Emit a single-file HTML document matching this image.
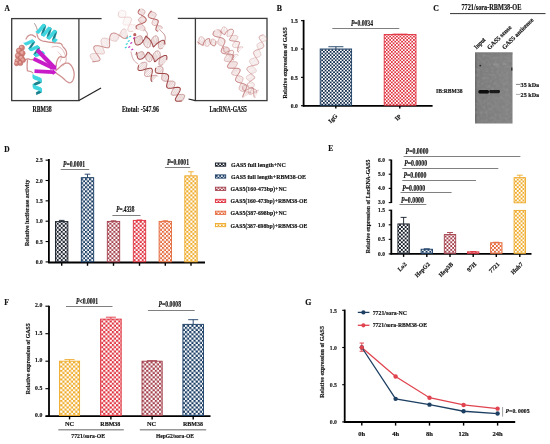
<!DOCTYPE html>
<html><head><meta charset="utf-8"><title>Figure</title>
<style>
html,body{margin:0;padding:0;background:#fff;width:550px;height:444px;overflow:hidden;}
svg{display:block;filter:blur(0.3px);}
text{stroke:#1a1a1a;stroke-width:0.18px;}
</style></head><body>
<svg width="550" height="444" viewBox="0 0 550 444">
<defs>
<pattern id="pkB" patternUnits="userSpaceOnUse" width="3.4" height="3.4"><rect width="3.4" height="3.4" fill="#141b26"/><rect x="1.7" y="0" width="1.7" height="1.7" fill="#fff"/><rect x="0" y="1.7" width="1.7" height="1.7" fill="#fff"/></pattern>
<pattern id="pnvB" patternUnits="userSpaceOnUse" width="3.4" height="3.4"><rect width="3.4" height="3.4" fill="#112c4c"/><rect x="1.7" y="0" width="1.7" height="1.7" fill="#fff"/><rect x="0" y="1.7" width="1.7" height="1.7" fill="#fff"/></pattern>
<pattern id="pbrB" patternUnits="userSpaceOnUse" width="3.4" height="3.4"><rect width="3.4" height="3.4" fill="#a4404c"/><rect x="1.7" y="0" width="1.7" height="1.7" fill="#fff"/><rect x="0" y="1.7" width="1.7" height="1.7" fill="#fff"/></pattern>
<pattern id="prdB" patternUnits="userSpaceOnUse" width="3.4" height="3.4"><rect width="3.4" height="3.4" fill="#e0323f"/><rect x="1.7" y="0" width="1.7" height="1.7" fill="#fff"/><rect x="0" y="1.7" width="1.7" height="1.7" fill="#fff"/></pattern>
<pattern id="porB" patternUnits="userSpaceOnUse" width="3.4" height="3.4"><rect width="3.4" height="3.4" fill="#e56a3c"/><rect x="1.7" y="0" width="1.7" height="1.7" fill="#fff"/><rect x="0" y="1.7" width="1.7" height="1.7" fill="#fff"/></pattern>
<pattern id="pgdB" patternUnits="userSpaceOnUse" width="3.4" height="3.4"><rect width="3.4" height="3.4" fill="#efab2a"/><rect x="1.7" y="0" width="1.7" height="1.7" fill="#fff"/><rect x="0" y="1.7" width="1.7" height="1.7" fill="#fff"/></pattern>
<pattern id="pkD" patternUnits="userSpaceOnUse" width="4.05" height="4.05"><rect width="4.05" height="4.05" fill="#141b26"/><rect x="2.02" y="0" width="2.02" height="2.02" fill="#fff"/><rect x="0" y="2.02" width="2.02" height="2.02" fill="#fff"/></pattern>
<pattern id="pnvD" patternUnits="userSpaceOnUse" width="4.05" height="4.05"><rect width="4.05" height="4.05" fill="#183c64"/><rect x="2.02" y="0" width="2.02" height="2.02" fill="#fff"/><rect x="0" y="2.02" width="2.02" height="2.02" fill="#fff"/></pattern>
<pattern id="pbrD" patternUnits="userSpaceOnUse" width="4.05" height="4.05"><rect width="4.05" height="4.05" fill="#a4404c"/><rect x="2.02" y="0" width="2.02" height="2.02" fill="#fff"/><rect x="0" y="2.02" width="2.02" height="2.02" fill="#fff"/></pattern>
<pattern id="prdD" patternUnits="userSpaceOnUse" width="4.05" height="4.05"><rect width="4.05" height="4.05" fill="#e0323f"/><rect x="2.02" y="0" width="2.02" height="2.02" fill="#fff"/><rect x="0" y="2.02" width="2.02" height="2.02" fill="#fff"/></pattern>
<pattern id="porD" patternUnits="userSpaceOnUse" width="4.05" height="4.05"><rect width="4.05" height="4.05" fill="#e56a3c"/><rect x="2.02" y="0" width="2.02" height="2.02" fill="#fff"/><rect x="0" y="2.02" width="2.02" height="2.02" fill="#fff"/></pattern>
<pattern id="pgdD" patternUnits="userSpaceOnUse" width="4.05" height="4.05"><rect width="4.05" height="4.05" fill="#efab2a"/><rect x="2.02" y="0" width="2.02" height="2.02" fill="#fff"/><rect x="0" y="2.02" width="2.02" height="2.02" fill="#fff"/></pattern>
<pattern id="pkE" patternUnits="userSpaceOnUse" width="3.8" height="3.8"><rect width="3.8" height="3.8" fill="#141b26"/><rect x="1.9" y="0" width="1.9" height="1.9" fill="#fff"/><rect x="0" y="1.9" width="1.9" height="1.9" fill="#fff"/></pattern>
<pattern id="pnvE" patternUnits="userSpaceOnUse" width="3.8" height="3.8"><rect width="3.8" height="3.8" fill="#183c64"/><rect x="1.9" y="0" width="1.9" height="1.9" fill="#fff"/><rect x="0" y="1.9" width="1.9" height="1.9" fill="#fff"/></pattern>
<pattern id="pbrE" patternUnits="userSpaceOnUse" width="3.8" height="3.8"><rect width="3.8" height="3.8" fill="#a4404c"/><rect x="1.9" y="0" width="1.9" height="1.9" fill="#fff"/><rect x="0" y="1.9" width="1.9" height="1.9" fill="#fff"/></pattern>
<pattern id="prdE" patternUnits="userSpaceOnUse" width="3.8" height="3.8"><rect width="3.8" height="3.8" fill="#e0323f"/><rect x="1.9" y="0" width="1.9" height="1.9" fill="#fff"/><rect x="0" y="1.9" width="1.9" height="1.9" fill="#fff"/></pattern>
<pattern id="porE" patternUnits="userSpaceOnUse" width="3.8" height="3.8"><rect width="3.8" height="3.8" fill="#e56a3c"/><rect x="1.9" y="0" width="1.9" height="1.9" fill="#fff"/><rect x="0" y="1.9" width="1.9" height="1.9" fill="#fff"/></pattern>
<pattern id="pgdE" patternUnits="userSpaceOnUse" width="3.8" height="3.8"><rect width="3.8" height="3.8" fill="#efab2a"/><rect x="1.9" y="0" width="1.9" height="1.9" fill="#fff"/><rect x="0" y="1.9" width="1.9" height="1.9" fill="#fff"/></pattern>
<pattern id="pkF" patternUnits="userSpaceOnUse" width="4.3" height="4.3"><rect width="4.3" height="4.3" fill="#141b26"/><rect x="2.15" y="0" width="2.15" height="2.15" fill="#fff"/><rect x="0" y="2.15" width="2.15" height="2.15" fill="#fff"/></pattern>
<pattern id="pnvF" patternUnits="userSpaceOnUse" width="4.3" height="4.3"><rect width="4.3" height="4.3" fill="#183c64"/><rect x="2.15" y="0" width="2.15" height="2.15" fill="#fff"/><rect x="0" y="2.15" width="2.15" height="2.15" fill="#fff"/></pattern>
<pattern id="pbrF" patternUnits="userSpaceOnUse" width="4.3" height="4.3"><rect width="4.3" height="4.3" fill="#a4404c"/><rect x="2.15" y="0" width="2.15" height="2.15" fill="#fff"/><rect x="0" y="2.15" width="2.15" height="2.15" fill="#fff"/></pattern>
<pattern id="prdF" patternUnits="userSpaceOnUse" width="4.3" height="4.3"><rect width="4.3" height="4.3" fill="#e0323f"/><rect x="2.15" y="0" width="2.15" height="2.15" fill="#fff"/><rect x="0" y="2.15" width="2.15" height="2.15" fill="#fff"/></pattern>
<pattern id="porF" patternUnits="userSpaceOnUse" width="4.3" height="4.3"><rect width="4.3" height="4.3" fill="#e56a3c"/><rect x="2.15" y="0" width="2.15" height="2.15" fill="#fff"/><rect x="0" y="2.15" width="2.15" height="2.15" fill="#fff"/></pattern>
<pattern id="pgdF" patternUnits="userSpaceOnUse" width="4.3" height="4.3"><rect width="4.3" height="4.3" fill="#efab2a"/><rect x="2.15" y="0" width="2.15" height="2.15" fill="#fff"/><rect x="0" y="2.15" width="2.15" height="2.15" fill="#fff"/></pattern>
<pattern id="pkL" patternUnits="userSpaceOnUse" width="3.4" height="3.4"><rect width="3.4" height="3.4" fill="#141b26"/><rect x="1.7" y="0" width="1.7" height="1.7" fill="#fff"/><rect x="0" y="1.7" width="1.7" height="1.7" fill="#fff"/></pattern>
<pattern id="pnvL" patternUnits="userSpaceOnUse" width="3.4" height="3.4"><rect width="3.4" height="3.4" fill="#183c64"/><rect x="1.7" y="0" width="1.7" height="1.7" fill="#fff"/><rect x="0" y="1.7" width="1.7" height="1.7" fill="#fff"/></pattern>
<pattern id="pbrL" patternUnits="userSpaceOnUse" width="3.4" height="3.4"><rect width="3.4" height="3.4" fill="#a4404c"/><rect x="1.7" y="0" width="1.7" height="1.7" fill="#fff"/><rect x="0" y="1.7" width="1.7" height="1.7" fill="#fff"/></pattern>
<pattern id="prdL" patternUnits="userSpaceOnUse" width="3.4" height="3.4"><rect width="3.4" height="3.4" fill="#e0323f"/><rect x="1.7" y="0" width="1.7" height="1.7" fill="#fff"/><rect x="0" y="1.7" width="1.7" height="1.7" fill="#fff"/></pattern>
<pattern id="porL" patternUnits="userSpaceOnUse" width="3.4" height="3.4"><rect width="3.4" height="3.4" fill="#e56a3c"/><rect x="1.7" y="0" width="1.7" height="1.7" fill="#fff"/><rect x="0" y="1.7" width="1.7" height="1.7" fill="#fff"/></pattern>
<pattern id="pgdL" patternUnits="userSpaceOnUse" width="3.4" height="3.4"><rect width="3.4" height="3.4" fill="#efab2a"/><rect x="1.7" y="0" width="1.7" height="1.7" fill="#fff"/><rect x="0" y="1.7" width="1.7" height="1.7" fill="#fff"/></pattern>
</defs>
<rect width="550" height="444" fill="#fff"/>
<text x="276.7" y="10.5" font-size="7.8" text-anchor="start" fill="#111" font-weight="bold" font-style="normal" font-family="Liberation Serif" >B</text>
<line x1="303.6" y1="19.9" x2="303.6" y2="106.6" stroke="#000" stroke-width="1.8" />
<line x1="302.8" y1="105.9" x2="432.6" y2="105.9" stroke="#000" stroke-width="1.8" />
<line x1="301" y1="105.7" x2="303.6" y2="105.7" stroke="#000" stroke-width="1.1" />
<text x="297.8" y="108.1" font-size="6.2" text-anchor="end" fill="#111" font-weight="bold" font-style="normal" font-family="Liberation Serif" textLength="7" lengthAdjust="spacingAndGlyphs" >0.0</text>
<line x1="301" y1="77.35" x2="303.6" y2="77.35" stroke="#000" stroke-width="1.1" />
<text x="297.8" y="79.75" font-size="6.2" text-anchor="end" fill="#111" font-weight="bold" font-style="normal" font-family="Liberation Serif" textLength="7" lengthAdjust="spacingAndGlyphs" >0.5</text>
<line x1="301" y1="49" x2="303.6" y2="49" stroke="#000" stroke-width="1.1" />
<text x="297.8" y="51.4" font-size="6.2" text-anchor="end" fill="#111" font-weight="bold" font-style="normal" font-family="Liberation Serif" textLength="7" lengthAdjust="spacingAndGlyphs" >1.0</text>
<line x1="301" y1="20.65" x2="303.6" y2="20.65" stroke="#000" stroke-width="1.1" />
<text x="297.8" y="23.05" font-size="6.2" text-anchor="end" fill="#111" font-weight="bold" font-style="normal" font-family="Liberation Serif" textLength="7" lengthAdjust="spacingAndGlyphs" >1.5</text>
<line x1="335.8" y1="105.9" x2="335.8" y2="108.4" stroke="#000" stroke-width="1.4" />
<line x1="399.8" y1="105.9" x2="399.8" y2="108.4" stroke="#000" stroke-width="1.4" />
<rect x="320.2" y="49" width="31.4" height="56.2" fill="url(#pnvB)" stroke="#183c64" stroke-width="0.9"/>
<line x1="335.9" y1="49" x2="335.9" y2="46.73" stroke="#183c64" stroke-width="0.9" />
<line x1="328.4" y1="46.73" x2="343.4" y2="46.73" stroke="#183c64" stroke-width="0.9" />
<rect x="384.2" y="34.54" width="31.8" height="70.66" fill="url(#prdB)" stroke="#e0323f" stroke-width="0.9"/>
<line x1="400.1" y1="34.54" x2="400.1" y2="34.14" stroke="#e0323f" stroke-width="0.9" />
<line x1="392.6" y1="34.14" x2="407.6" y2="34.14" stroke="#e0323f" stroke-width="0.9" />
<line x1="332.3" y1="28.5" x2="399.3" y2="28.5" stroke="#808080" stroke-width="1" />
<text x="350.9" y="25.5" font-size="7.2" text-anchor="start" fill="#111" font-weight="bold" font-family="Liberation Serif" textLength="22.1" lengthAdjust="spacingAndGlyphs"><tspan font-style="italic">P</tspan>=0.0034</text>
<text x="287.1" y="62.9" font-size="6" text-anchor="middle" fill="#111" font-weight="bold" font-style="normal" font-family="Liberation Serif" textLength="71.4" lengthAdjust="spacingAndGlyphs" transform="rotate(-90 287.1 62.9)" >Relative expression of GAS5</text>
<text x="337.9" y="116.4" font-size="6" text-anchor="end" fill="#111" font-weight="bold" font-style="normal" font-family="Liberation Serif" transform="rotate(-45 337.9 116.4)" >IgG</text>
<text x="401.5" y="116.8" font-size="6" text-anchor="end" fill="#111" font-weight="bold" font-style="normal" font-family="Liberation Serif" transform="rotate(-45 401.5 116.8)" >IP</text>
<text x="4.3" y="151.5" font-size="7.4" text-anchor="start" fill="#111" font-weight="bold" font-style="normal" font-family="Liberation Serif" >D</text>
<line x1="48.9" y1="159" x2="48.9" y2="263" stroke="#000" stroke-width="1.8" />
<line x1="48.1" y1="262.5" x2="205" y2="262.5" stroke="#000" stroke-width="1.8" />
<line x1="45.6" y1="261.9" x2="48.9" y2="261.9" stroke="#000" stroke-width="1.1" />
<text x="42.6" y="264" font-size="6.2" text-anchor="end" fill="#111" font-weight="bold" font-style="normal" font-family="Liberation Serif" textLength="6.8" lengthAdjust="spacingAndGlyphs" >0.0</text>
<line x1="45.6" y1="241.55" x2="48.9" y2="241.55" stroke="#000" stroke-width="1.1" />
<text x="42.6" y="243.65" font-size="6.2" text-anchor="end" fill="#111" font-weight="bold" font-style="normal" font-family="Liberation Serif" textLength="6.8" lengthAdjust="spacingAndGlyphs" >0.5</text>
<line x1="45.6" y1="221.2" x2="48.9" y2="221.2" stroke="#000" stroke-width="1.1" />
<text x="42.6" y="223.3" font-size="6.2" text-anchor="end" fill="#111" font-weight="bold" font-style="normal" font-family="Liberation Serif" textLength="6.8" lengthAdjust="spacingAndGlyphs" >1.0</text>
<line x1="45.6" y1="200.85" x2="48.9" y2="200.85" stroke="#000" stroke-width="1.1" />
<text x="42.6" y="202.95" font-size="6.2" text-anchor="end" fill="#111" font-weight="bold" font-style="normal" font-family="Liberation Serif" textLength="6.8" lengthAdjust="spacingAndGlyphs" >1.5</text>
<line x1="45.6" y1="180.5" x2="48.9" y2="180.5" stroke="#000" stroke-width="1.1" />
<text x="42.6" y="182.6" font-size="6.2" text-anchor="end" fill="#111" font-weight="bold" font-style="normal" font-family="Liberation Serif" textLength="6.8" lengthAdjust="spacingAndGlyphs" >2.0</text>
<line x1="45.6" y1="160.15" x2="48.9" y2="160.15" stroke="#000" stroke-width="1.1" />
<text x="42.6" y="162.25" font-size="6.2" text-anchor="end" fill="#111" font-weight="bold" font-style="normal" font-family="Liberation Serif" textLength="6.8" lengthAdjust="spacingAndGlyphs" >2.5</text>
<line x1="61.7" y1="262.5" x2="61.7" y2="265.8" stroke="#000" stroke-width="1.4" />
<rect x="55.5" y="221.61" width="12.4" height="40.19" fill="url(#pkD)" stroke="#141b26" stroke-width="0.9"/>
<line x1="61.7" y1="221.61" x2="61.7" y2="220.39" stroke="#141b26" stroke-width="0.9" />
<line x1="58.9" y1="220.39" x2="64.5" y2="220.39" stroke="#141b26" stroke-width="0.9" />
<line x1="87.5" y1="262.5" x2="87.5" y2="265.8" stroke="#000" stroke-width="1.4" />
<rect x="81.3" y="177.65" width="12.4" height="84.15" fill="url(#pnvD)" stroke="#183c64" stroke-width="0.9"/>
<line x1="87.5" y1="177.65" x2="87.5" y2="174.19" stroke="#183c64" stroke-width="0.9" />
<line x1="84.7" y1="174.19" x2="90.3" y2="174.19" stroke="#183c64" stroke-width="0.9" />
<line x1="113.5" y1="262.5" x2="113.5" y2="265.8" stroke="#000" stroke-width="1.4" />
<rect x="107.3" y="221.4" width="12.4" height="40.4" fill="url(#pbrD)" stroke="#a4404c" stroke-width="0.9"/>
<line x1="113.5" y1="221.4" x2="113.5" y2="220.79" stroke="#a4404c" stroke-width="0.9" />
<line x1="110.7" y1="220.79" x2="116.3" y2="220.79" stroke="#a4404c" stroke-width="0.9" />
<line x1="139.5" y1="262.5" x2="139.5" y2="265.8" stroke="#000" stroke-width="1.4" />
<rect x="133.3" y="220.39" width="12.4" height="41.41" fill="url(#prdD)" stroke="#e0323f" stroke-width="0.9"/>
<line x1="139.5" y1="220.39" x2="139.5" y2="219.98" stroke="#e0323f" stroke-width="0.9" />
<line x1="136.7" y1="219.98" x2="142.3" y2="219.98" stroke="#e0323f" stroke-width="0.9" />
<line x1="165.3" y1="262.5" x2="165.3" y2="265.8" stroke="#000" stroke-width="1.4" />
<rect x="159.1" y="221.4" width="12.4" height="40.4" fill="url(#porD)" stroke="#e56a3c" stroke-width="0.9"/>
<line x1="165.3" y1="221.4" x2="165.3" y2="220.79" stroke="#e56a3c" stroke-width="0.9" />
<line x1="162.5" y1="220.79" x2="168.1" y2="220.79" stroke="#e56a3c" stroke-width="0.9" />
<line x1="191" y1="262.5" x2="191" y2="265.8" stroke="#000" stroke-width="1.4" />
<rect x="184.8" y="175.82" width="12.4" height="85.98" fill="url(#pgdD)" stroke="#efab2a" stroke-width="0.9"/>
<line x1="191" y1="175.82" x2="191" y2="171.75" stroke="#efab2a" stroke-width="0.9" />
<line x1="188.2" y1="171.75" x2="193.8" y2="171.75" stroke="#efab2a" stroke-width="0.9" />
<line x1="60.7" y1="169.5" x2="89.2" y2="169.5" stroke="#808080" stroke-width="1" />
<text x="63" y="166.7" font-size="7.2" text-anchor="start" fill="#111" font-weight="bold" font-family="Liberation Serif" textLength="22.1" lengthAdjust="spacingAndGlyphs"><tspan font-style="italic">P</tspan>=0.0001</text>
<line x1="112.4" y1="215.5" x2="140.5" y2="215.5" stroke="#808080" stroke-width="1" />
<text x="116.2" y="212.3" font-size="7.2" text-anchor="start" fill="#111" font-weight="bold" font-family="Liberation Serif" textLength="18.2" lengthAdjust="spacingAndGlyphs"><tspan font-style="italic">P</tspan>=.4338</text>
<line x1="164.9" y1="167.5" x2="190.2" y2="167.5" stroke="#808080" stroke-width="1" />
<text x="166.9" y="164.5" font-size="7.2" text-anchor="start" fill="#111" font-weight="bold" font-family="Liberation Serif" textLength="22.1" lengthAdjust="spacingAndGlyphs"><tspan font-style="italic">P</tspan>=0.0001</text>
<text x="28.8" y="212.8" font-size="6" text-anchor="middle" fill="#111" font-weight="bold" font-style="normal" font-family="Liberation Serif" textLength="66.4" lengthAdjust="spacingAndGlyphs" transform="rotate(-90 28.8 212.8)" >Relative luciferase activity</text>
<rect x="215.4" y="163" width="10.3" height="3.2" fill="url(#pkL)" stroke="#141b26" stroke-width="0.9"/>
<text x="231" y="167" font-size="7" text-anchor="start" fill="#111" font-weight="bold" font-style="normal" font-family="Liberation Serif" textLength="54.7" lengthAdjust="spacingAndGlyphs" >GAS5 full length+NC</text>
<rect x="215.4" y="174.9" width="10.3" height="3.2" fill="url(#pnvL)" stroke="#183c64" stroke-width="0.9"/>
<text x="231" y="178.9" font-size="7" text-anchor="start" fill="#111" font-weight="bold" font-style="normal" font-family="Liberation Serif" textLength="75" lengthAdjust="spacingAndGlyphs" >GAS5 full length+RBM38-OE</text>
<rect x="215.4" y="187.2" width="10.3" height="3.2" fill="url(#pbrL)" stroke="#a4404c" stroke-width="0.9"/>
<text x="230.6" y="191.2" font-size="7" text-anchor="start" fill="#111" font-weight="bold" font-style="normal" font-family="Liberation Serif" textLength="56.2" lengthAdjust="spacingAndGlyphs" >GAS5(160-473bp)+NC</text>
<rect x="215.4" y="199.3" width="10.3" height="3.2" fill="url(#prdL)" stroke="#e0323f" stroke-width="0.9"/>
<text x="230.6" y="203.3" font-size="7" text-anchor="start" fill="#111" font-weight="bold" font-style="normal" font-family="Liberation Serif" textLength="76.7" lengthAdjust="spacingAndGlyphs" >GAS5(160-473bp)+RBM38-OE</text>
<rect x="215.4" y="211.2" width="10.3" height="3.2" fill="url(#porL)" stroke="#e56a3c" stroke-width="0.9"/>
<text x="230.6" y="215.2" font-size="7" text-anchor="start" fill="#111" font-weight="bold" font-style="normal" font-family="Liberation Serif" textLength="56.2" lengthAdjust="spacingAndGlyphs" >GAS5(387-698bp)+NC</text>
<rect x="215.4" y="223.5" width="10.3" height="3.2" fill="url(#pgdL)" stroke="#efab2a" stroke-width="0.9"/>
<text x="230.6" y="227.5" font-size="7" text-anchor="start" fill="#111" font-weight="bold" font-style="normal" font-family="Liberation Serif" textLength="76.7" lengthAdjust="spacingAndGlyphs" >GAS5(387-698bp)+RBM38-OE</text>
<text x="328.2" y="151.2" font-size="7.4" text-anchor="start" fill="#111" font-weight="bold" font-style="normal" font-family="Liberation Serif" >E</text>
<line x1="391.3" y1="159.6" x2="391.3" y2="203" stroke="#000" stroke-width="1.8" />
<line x1="391.3" y1="209.7" x2="391.3" y2="254.6" stroke="#000" stroke-width="1.8" />
<line x1="390.5" y1="253.9" x2="531.5" y2="253.9" stroke="#000" stroke-width="1.8" />
<line x1="388.7" y1="202.6" x2="391.3" y2="202.6" stroke="#000" stroke-width="1.1" />
<text x="384.9" y="204.3" font-size="6" text-anchor="end" fill="#111" font-weight="bold" font-style="normal" font-family="Liberation Serif" textLength="6.8" lengthAdjust="spacingAndGlyphs" >3.0</text>
<line x1="388.7" y1="188.4" x2="391.3" y2="188.4" stroke="#000" stroke-width="1.1" />
<text x="384.9" y="190.1" font-size="6" text-anchor="end" fill="#111" font-weight="bold" font-style="normal" font-family="Liberation Serif" textLength="6.8" lengthAdjust="spacingAndGlyphs" >4.0</text>
<line x1="388.7" y1="174.2" x2="391.3" y2="174.2" stroke="#000" stroke-width="1.1" />
<text x="384.9" y="175.9" font-size="6" text-anchor="end" fill="#111" font-weight="bold" font-style="normal" font-family="Liberation Serif" textLength="6.8" lengthAdjust="spacingAndGlyphs" >5.0</text>
<line x1="388.7" y1="160" x2="391.3" y2="160" stroke="#000" stroke-width="1.1" />
<text x="384.9" y="161.7" font-size="6" text-anchor="end" fill="#111" font-weight="bold" font-style="normal" font-family="Liberation Serif" textLength="6.8" lengthAdjust="spacingAndGlyphs" >6.0</text>
<line x1="388.7" y1="253.9" x2="391.3" y2="253.9" stroke="#000" stroke-width="1.1" />
<text x="384.9" y="255.6" font-size="6" text-anchor="end" fill="#111" font-weight="bold" font-style="normal" font-family="Liberation Serif" textLength="6.8" lengthAdjust="spacingAndGlyphs" >0.0</text>
<line x1="388.7" y1="239.35" x2="391.3" y2="239.35" stroke="#000" stroke-width="1.1" />
<text x="384.9" y="241.05" font-size="6" text-anchor="end" fill="#111" font-weight="bold" font-style="normal" font-family="Liberation Serif" textLength="6.8" lengthAdjust="spacingAndGlyphs" >0.5</text>
<line x1="388.7" y1="224.8" x2="391.3" y2="224.8" stroke="#000" stroke-width="1.1" />
<text x="384.9" y="226.5" font-size="6" text-anchor="end" fill="#111" font-weight="bold" font-style="normal" font-family="Liberation Serif" textLength="6.8" lengthAdjust="spacingAndGlyphs" >1.0</text>
<line x1="388.7" y1="210.25" x2="391.3" y2="210.25" stroke="#000" stroke-width="1.1" />
<text x="384.9" y="211.95" font-size="6" text-anchor="end" fill="#111" font-weight="bold" font-style="normal" font-family="Liberation Serif" textLength="6.8" lengthAdjust="spacingAndGlyphs" >1.5</text>
<line x1="403.6" y1="253.9" x2="403.6" y2="256.9" stroke="#000" stroke-width="1.4" />
<text x="407.1" y="264.7" font-size="6" text-anchor="end" fill="#111" font-weight="bold" font-style="normal" font-family="Liberation Serif" transform="rotate(-45 407.1 264.7)" >Lo2</text>
<rect x="397.9" y="223.93" width="11.4" height="29.37" fill="url(#pkE)" stroke="#141b26" stroke-width="0.9"/>
<line x1="403.6" y1="223.93" x2="403.6" y2="217.38" stroke="#141b26" stroke-width="0.9" />
<line x1="400.6" y1="217.38" x2="406.6" y2="217.38" stroke="#141b26" stroke-width="0.9" />
<line x1="426.8" y1="253.9" x2="426.8" y2="256.9" stroke="#000" stroke-width="1.4" />
<text x="430.3" y="264.7" font-size="6" text-anchor="end" fill="#111" font-weight="bold" font-style="normal" font-family="Liberation Serif" transform="rotate(-45 430.3 264.7)" >HepG2</text>
<rect x="421.1" y="249.24" width="11.4" height="4.06" fill="url(#pnvE)" stroke="#183c64" stroke-width="0.9"/>
<line x1="426.8" y1="249.24" x2="426.8" y2="248.81" stroke="#183c64" stroke-width="0.9" />
<line x1="423.8" y1="248.81" x2="429.8" y2="248.81" stroke="#183c64" stroke-width="0.9" />
<line x1="450" y1="253.9" x2="450" y2="256.9" stroke="#000" stroke-width="1.4" />
<text x="453.5" y="264.7" font-size="6" text-anchor="end" fill="#111" font-weight="bold" font-style="normal" font-family="Liberation Serif" transform="rotate(-45 453.5 264.7)" >Hep3B</text>
<rect x="444.3" y="234.55" width="11.4" height="18.75" fill="url(#pbrE)" stroke="#a4404c" stroke-width="0.9"/>
<line x1="450" y1="234.55" x2="450" y2="232.51" stroke="#a4404c" stroke-width="0.9" />
<line x1="447" y1="232.51" x2="453" y2="232.51" stroke="#a4404c" stroke-width="0.9" />
<line x1="473.2" y1="253.9" x2="473.2" y2="256.9" stroke="#000" stroke-width="1.4" />
<text x="476.7" y="264.7" font-size="6" text-anchor="end" fill="#111" font-weight="bold" font-style="normal" font-family="Liberation Serif" transform="rotate(-45 476.7 264.7)" >97H</text>
<rect x="467.5" y="251.86" width="11.4" height="1.44" fill="url(#prdE)" stroke="#e0323f" stroke-width="0.9"/>
<line x1="473.2" y1="251.86" x2="473.2" y2="251.57" stroke="#e0323f" stroke-width="0.9" />
<line x1="470.2" y1="251.57" x2="476.2" y2="251.57" stroke="#e0323f" stroke-width="0.9" />
<line x1="496.3" y1="253.9" x2="496.3" y2="256.9" stroke="#000" stroke-width="1.4" />
<text x="499.8" y="264.7" font-size="6" text-anchor="end" fill="#111" font-weight="bold" font-style="normal" font-family="Liberation Serif" transform="rotate(-45 499.8 264.7)" >7721</text>
<rect x="490.6" y="242.7" width="11.4" height="10.6" fill="url(#porE)" stroke="#e56a3c" stroke-width="0.9"/>
<line x1="496.3" y1="242.7" x2="496.3" y2="242.26" stroke="#e56a3c" stroke-width="0.9" />
<line x1="493.3" y1="242.26" x2="499.3" y2="242.26" stroke="#e56a3c" stroke-width="0.9" />
<line x1="519.8" y1="253.9" x2="519.8" y2="256.9" stroke="#000" stroke-width="1.4" />
<text x="523.3" y="264.7" font-size="6" text-anchor="end" fill="#111" font-weight="bold" font-style="normal" font-family="Liberation Serif" transform="rotate(-45 523.3 264.7)" >Huh7</text>
<rect x="514.1" y="177.6" width="11.4" height="25.2" fill="url(#pgdE)" stroke="#efab2a" stroke-width="0.9"/>
<rect x="514.1" y="210.4" width="11.4" height="42.9" fill="url(#pgdE)" stroke="#efab2a" stroke-width="0.9"/>
<line x1="519.8" y1="177.6" x2="519.8" y2="175.2" stroke="#efab2a" stroke-width="0.9" />
<line x1="516.8" y1="175.2" x2="522.8" y2="175.2" stroke="#efab2a" stroke-width="0.9" />
<line x1="403.6" y1="156.5" x2="520.4" y2="156.5" stroke="#808080" stroke-width="1" />
<text x="405.6" y="154.1" font-size="7.2" text-anchor="start" fill="#111" font-weight="bold" font-family="Liberation Serif" textLength="22.9" lengthAdjust="spacingAndGlyphs"><tspan font-style="italic">P</tspan>=0.0000</text>
<line x1="402.3" y1="168.5" x2="498.3" y2="168.5" stroke="#808080" stroke-width="1" />
<text x="404.2" y="166.3" font-size="7.2" text-anchor="start" fill="#111" font-weight="bold" font-family="Liberation Serif" textLength="22.9" lengthAdjust="spacingAndGlyphs"><tspan font-style="italic">P</tspan>=0.0000</text>
<line x1="402.3" y1="180.5" x2="476" y2="180.5" stroke="#808080" stroke-width="1" />
<text x="403.5" y="178.3" font-size="7.2" text-anchor="start" fill="#111" font-weight="bold" font-family="Liberation Serif" textLength="22.9" lengthAdjust="spacingAndGlyphs"><tspan font-style="italic">P</tspan>=0.0000</text>
<line x1="400.5" y1="192.5" x2="451.6" y2="192.5" stroke="#808080" stroke-width="1" />
<text x="402.2" y="190.6" font-size="7.2" text-anchor="start" fill="#111" font-weight="bold" font-family="Liberation Serif" textLength="22.9" lengthAdjust="spacingAndGlyphs"><tspan font-style="italic">P</tspan>=0.0000</text>
<line x1="399.5" y1="204.5" x2="426.3" y2="204.5" stroke="#808080" stroke-width="1" />
<text x="401" y="202.9" font-size="7.2" text-anchor="start" fill="#111" font-weight="bold" font-family="Liberation Serif" textLength="22.9" lengthAdjust="spacingAndGlyphs"><tspan font-style="italic">P</tspan>=0.0000</text>
<text x="369.6" y="206.5" font-size="6" text-anchor="middle" fill="#111" font-weight="bold" font-style="normal" font-family="Liberation Serif" textLength="93.7" lengthAdjust="spacingAndGlyphs" transform="rotate(-90 369.6 206.5)" >Relative expression of LncRNA-GAS5</text>
<text x="4.2" y="304.6" font-size="7.8" text-anchor="start" fill="#111" font-weight="bold" font-style="normal" font-family="Liberation Serif" >F</text>
<line x1="49" y1="305.7" x2="49" y2="416.9" stroke="#000" stroke-width="1.8" />
<line x1="45.6" y1="416.1" x2="210.5" y2="416.1" stroke="#000" stroke-width="1.8" />
<line x1="45.4" y1="416.2" x2="49" y2="416.2" stroke="#000" stroke-width="1.1" />
<text x="42.3" y="417.2" font-size="6.2" text-anchor="end" fill="#111" font-weight="bold" font-style="normal" font-family="Liberation Serif" textLength="7.2" lengthAdjust="spacingAndGlyphs" >0.0</text>
<line x1="45.4" y1="388.7" x2="49" y2="388.7" stroke="#000" stroke-width="1.1" />
<text x="42.3" y="389.7" font-size="6.2" text-anchor="end" fill="#111" font-weight="bold" font-style="normal" font-family="Liberation Serif" textLength="7.2" lengthAdjust="spacingAndGlyphs" >0.5</text>
<line x1="45.4" y1="361.2" x2="49" y2="361.2" stroke="#000" stroke-width="1.1" />
<text x="42.3" y="362.2" font-size="6.2" text-anchor="end" fill="#111" font-weight="bold" font-style="normal" font-family="Liberation Serif" textLength="7.2" lengthAdjust="spacingAndGlyphs" >1.0</text>
<line x1="45.4" y1="333.7" x2="49" y2="333.7" stroke="#000" stroke-width="1.1" />
<text x="42.3" y="334.7" font-size="6.2" text-anchor="end" fill="#111" font-weight="bold" font-style="normal" font-family="Liberation Serif" textLength="7.2" lengthAdjust="spacingAndGlyphs" >1.5</text>
<line x1="45.4" y1="306.2" x2="49" y2="306.2" stroke="#000" stroke-width="1.1" />
<text x="42.3" y="307.2" font-size="6.2" text-anchor="end" fill="#111" font-weight="bold" font-style="normal" font-family="Liberation Serif" textLength="7.2" lengthAdjust="spacingAndGlyphs" >2.0</text>
<rect x="59.5" y="361.2" width="20.1" height="54.3" fill="url(#pgdF)" stroke="#efab2a" stroke-width="0.9"/>
<line x1="69.55" y1="361.2" x2="69.55" y2="359.55" stroke="#efab2a" stroke-width="0.9" />
<line x1="64.55" y1="359.55" x2="74.55" y2="359.55" stroke="#efab2a" stroke-width="0.9" />
<line x1="69.55" y1="416.1" x2="69.55" y2="419.4" stroke="#000" stroke-width="1.4" />
<rect x="100.6" y="319.12" width="20.6" height="96.38" fill="url(#prdF)" stroke="#e0323f" stroke-width="0.9"/>
<line x1="110.9" y1="319.12" x2="110.9" y2="317.2" stroke="#e0323f" stroke-width="0.9" />
<line x1="105.9" y1="317.2" x2="115.9" y2="317.2" stroke="#e0323f" stroke-width="0.9" />
<line x1="110.9" y1="416.1" x2="110.9" y2="419.4" stroke="#000" stroke-width="1.4" />
<rect x="142" y="361.2" width="20.2" height="54.3" fill="url(#pbrF)" stroke="#a4404c" stroke-width="0.9"/>
<line x1="152.1" y1="361.2" x2="152.1" y2="360.65" stroke="#a4404c" stroke-width="0.9" />
<line x1="147.1" y1="360.65" x2="157.1" y2="360.65" stroke="#a4404c" stroke-width="0.9" />
<line x1="152.1" y1="416.1" x2="152.1" y2="419.4" stroke="#000" stroke-width="1.4" />
<rect x="182.9" y="324.35" width="20.6" height="91.15" fill="url(#pnvF)" stroke="#183c64" stroke-width="0.9"/>
<line x1="193.2" y1="324.35" x2="193.2" y2="319.68" stroke="#183c64" stroke-width="0.9" />
<line x1="188.2" y1="319.68" x2="198.2" y2="319.68" stroke="#183c64" stroke-width="0.9" />
<line x1="193.2" y1="416.1" x2="193.2" y2="419.4" stroke="#000" stroke-width="1.4" />
<line x1="66" y1="306.5" x2="112.5" y2="306.5" stroke="#808080" stroke-width="1" />
<text x="76" y="303.6" font-size="7.2" text-anchor="start" fill="#111" font-weight="bold" font-family="Liberation Serif" textLength="22.2" lengthAdjust="spacingAndGlyphs"><tspan font-style="italic">P</tspan>&lt;0.0001</text>
<line x1="147.9" y1="310.5" x2="194.7" y2="310.5" stroke="#808080" stroke-width="1" />
<text x="158.6" y="307.3" font-size="7.2" text-anchor="start" fill="#111" font-weight="bold" font-family="Liberation Serif" textLength="22.4" lengthAdjust="spacingAndGlyphs"><tspan font-style="italic">P</tspan>=0.0008</text>
<text x="69.6" y="425.9" font-size="6.3" text-anchor="middle" fill="#111" font-weight="bold" font-style="normal" font-family="Liberation Serif" textLength="9.2" lengthAdjust="spacingAndGlyphs" >NC</text>
<text x="110.3" y="425.9" font-size="6.3" text-anchor="middle" fill="#111" font-weight="bold" font-style="normal" font-family="Liberation Serif" textLength="20" lengthAdjust="spacingAndGlyphs" >RBM38</text>
<text x="151.6" y="425.9" font-size="6.3" text-anchor="middle" fill="#111" font-weight="bold" font-style="normal" font-family="Liberation Serif" textLength="9.2" lengthAdjust="spacingAndGlyphs" >NC</text>
<text x="193" y="425.9" font-size="6.3" text-anchor="middle" fill="#111" font-weight="bold" font-style="normal" font-family="Liberation Serif" textLength="20" lengthAdjust="spacingAndGlyphs" >RBM38</text>
<line x1="58.3" y1="429.7" x2="123.8" y2="429.7" stroke="#999" stroke-width="1.4" />
<line x1="139.8" y1="429.7" x2="206.2" y2="429.7" stroke="#999" stroke-width="1.4" />
<text x="88.2" y="438.4" font-size="6.3" text-anchor="middle" fill="#111" font-weight="bold" font-style="normal" font-family="Liberation Serif" textLength="33.7" lengthAdjust="spacingAndGlyphs" >7721/sora-OE</text>
<text x="175" y="438.4" font-size="6.3" text-anchor="middle" fill="#111" font-weight="bold" font-style="normal" font-family="Liberation Serif" textLength="38" lengthAdjust="spacingAndGlyphs" >HepG2/sora-OE</text>
<text x="29.9" y="358.8" font-size="6" text-anchor="middle" fill="#111" font-weight="bold" font-style="normal" font-family="Liberation Serif" textLength="70.7" lengthAdjust="spacingAndGlyphs" transform="rotate(-90 29.9 358.8)" >Relative expression of GAS5</text>
<text x="305.2" y="304.5" font-size="7.8" text-anchor="start" fill="#111" font-weight="bold" font-style="normal" font-family="Liberation Serif" >G</text>
<line x1="344.7" y1="309.6" x2="344.7" y2="422.8" stroke="#000" stroke-width="1.8" />
<line x1="343.9" y1="422" x2="515.2" y2="422" stroke="#000" stroke-width="1.8" />
<line x1="342.2" y1="421.9" x2="344.7" y2="421.9" stroke="#000" stroke-width="1.1" />
<text x="337" y="424.2" font-size="6" text-anchor="end" fill="#333" font-weight="bold" font-style="normal" font-family="Liberation Serif" textLength="7.2" lengthAdjust="spacingAndGlyphs" >0.0</text>
<line x1="342.2" y1="384.7" x2="344.7" y2="384.7" stroke="#000" stroke-width="1.1" />
<text x="337" y="387" font-size="6" text-anchor="end" fill="#333" font-weight="bold" font-style="normal" font-family="Liberation Serif" textLength="7.2" lengthAdjust="spacingAndGlyphs" >0.5</text>
<line x1="342.2" y1="347.5" x2="344.7" y2="347.5" stroke="#000" stroke-width="1.1" />
<text x="337" y="349.8" font-size="6" text-anchor="end" fill="#333" font-weight="bold" font-style="normal" font-family="Liberation Serif" textLength="7.2" lengthAdjust="spacingAndGlyphs" >1.0</text>
<line x1="342.2" y1="310.3" x2="344.7" y2="310.3" stroke="#000" stroke-width="1.1" />
<text x="337" y="312.6" font-size="6" text-anchor="end" fill="#333" font-weight="bold" font-style="normal" font-family="Liberation Serif" textLength="7.2" lengthAdjust="spacingAndGlyphs" >1.5</text>
<line x1="361.8" y1="422" x2="361.8" y2="425.6" stroke="#000" stroke-width="1.4" />
<text x="361.8" y="435.8" font-size="6.5" text-anchor="middle" fill="#111" font-weight="bold" font-style="normal" font-family="Liberation Serif" >0h</text>
<line x1="395.6" y1="422" x2="395.6" y2="425.6" stroke="#000" stroke-width="1.4" />
<text x="395.6" y="435.8" font-size="6.5" text-anchor="middle" fill="#111" font-weight="bold" font-style="normal" font-family="Liberation Serif" >4h</text>
<line x1="429.5" y1="422" x2="429.5" y2="425.6" stroke="#000" stroke-width="1.4" />
<text x="429.5" y="435.8" font-size="6.5" text-anchor="middle" fill="#111" font-weight="bold" font-style="normal" font-family="Liberation Serif" >8h</text>
<line x1="463.6" y1="422" x2="463.6" y2="425.6" stroke="#000" stroke-width="1.4" />
<text x="463.6" y="435.8" font-size="6.5" text-anchor="middle" fill="#111" font-weight="bold" font-style="normal" font-family="Liberation Serif" >12h</text>
<line x1="497.6" y1="422" x2="497.6" y2="425.6" stroke="#000" stroke-width="1.4" />
<text x="497.6" y="435.8" font-size="6.5" text-anchor="middle" fill="#111" font-weight="bold" font-style="normal" font-family="Liberation Serif" >24h</text>
<line x1="361.8" y1="343.04" x2="361.8" y2="351.22" stroke="#e0444f" stroke-width="1" />
<line x1="359.6" y1="343.04" x2="364" y2="343.04" stroke="#e0444f" stroke-width="1" />
<line x1="359.6" y1="351.22" x2="364" y2="351.22" stroke="#e0444f" stroke-width="1" />
<polyline fill="none" stroke="#e0444f" stroke-width="1.3" points="361.8,347.5 395.6,376.52 429.5,397.72 463.6,404.94 497.6,408.66"/>
<polyline fill="none" stroke="#1d3f62" stroke-width="1.3" points="361.8,347.5 395.6,398.84 429.5,404.64 463.6,411.26 497.6,413.57"/>
<circle cx="361.8" cy="347.5" r="2.2" fill="#1d3f62"/>
<circle cx="395.6" cy="398.84" r="2.2" fill="#1d3f62"/>
<circle cx="429.5" cy="404.64" r="2.2" fill="#1d3f62"/>
<circle cx="463.6" cy="411.26" r="2.2" fill="#1d3f62"/>
<circle cx="497.6" cy="413.57" r="2.2" fill="#1d3f62"/>
<circle cx="361.8" cy="347.5" r="2.2" fill="#e0444f"/>
<circle cx="395.6" cy="376.52" r="2.2" fill="#e0444f"/>
<circle cx="429.5" cy="397.72" r="2.2" fill="#e0444f"/>
<circle cx="463.6" cy="404.94" r="2.2" fill="#e0444f"/>
<circle cx="497.6" cy="408.66" r="2.2" fill="#e0444f"/>
<line x1="357.8" y1="312.4" x2="369.4" y2="312.4" stroke="#1d3f62" stroke-width="1.3" />
<circle cx="363.4" cy="312.4" r="2.1" fill="#1d3f62"/>
<text x="372.7" y="314.7" font-size="6.2" text-anchor="start" fill="#111" font-weight="bold" font-style="normal" font-family="Liberation Serif" textLength="34.3" lengthAdjust="spacingAndGlyphs" >7721/sora-NC</text>
<line x1="357.8" y1="325.3" x2="369.4" y2="325.3" stroke="#e0444f" stroke-width="1.3" />
<circle cx="363.4" cy="325.3" r="2.1" fill="#e0444f"/>
<text x="372.7" y="327.1" font-size="6.2" text-anchor="start" fill="#111" font-weight="bold" font-style="normal" font-family="Liberation Serif" textLength="54.3" lengthAdjust="spacingAndGlyphs" >7721/sora-RBM38-OE</text>
<line x1="502.6" y1="407" x2="502.6" y2="416.6" stroke="#888" stroke-width="0.8" />
<text x="505.6" y="413.2" font-size="5.6" text-anchor="start" fill="#111" font-weight="bold" font-family="Liberation Serif" textLength="24" lengthAdjust="spacingAndGlyphs"><tspan font-style="italic">P</tspan>=0. 0005</text>
<text x="323.8" y="361.9" font-size="6" text-anchor="middle" fill="#111" font-weight="bold" font-style="normal" font-family="Liberation Serif" textLength="71.5" lengthAdjust="spacingAndGlyphs" transform="rotate(-90 323.8 361.9)" >Relative expression of GAS5</text>
<text x="433.3" y="10.5" font-size="7.8" text-anchor="start" fill="#111" font-weight="bold" font-style="normal" font-family="Liberation Serif" >C</text>
<text x="461.4" y="9.8" font-size="7.2" text-anchor="start" fill="#111" font-weight="bold" font-style="normal" font-family="Liberation Serif" textLength="60" lengthAdjust="spacingAndGlyphs" >7721/sora-RBM38-OE</text>
<line x1="450" y1="13.6" x2="545.5" y2="13.6" stroke="#333" stroke-width="1" />
<text x="476.4" y="49.6" font-size="6.3" text-anchor="start" fill="#111" font-weight="bold" font-style="normal" font-family="Liberation Serif" textLength="13.5" lengthAdjust="spacingAndGlyphs" transform="rotate(-45 476.4 49.6)" >Input</text>
<text x="489.6" y="50" font-size="6.3" text-anchor="start" fill="#111" font-weight="bold" font-style="normal" font-family="Liberation Serif" textLength="31.5" lengthAdjust="spacingAndGlyphs" transform="rotate(-45 489.6 50)" >GAS5 sense</text>
<text x="504.4" y="49.8" font-size="6.3" text-anchor="start" fill="#111" font-weight="bold" font-style="normal" font-family="Liberation Serif" textLength="41.8" lengthAdjust="spacingAndGlyphs" transform="rotate(-45 504.4 49.8)" >GAS5 antisense</text>
<defs><linearGradient id="blotg" x1="0" y1="0" x2="1" y2="0"><stop offset="0" stop-color="#666"/><stop offset="0.07" stop-color="#7c7c7c"/><stop offset="0.9" stop-color="#838383"/><stop offset="1" stop-color="#7e7e7e"/></linearGradient><filter id="blur1" x="-20%" y="-50%" width="140%" height="200%"><feGaussianBlur stdDeviation="0.5"/></filter></defs>
<rect x="475" y="52.4" width="37.5" height="71.1" fill="url(#blotg)"/>
<defs><filter id="grain" x="0" y="0" width="100%" height="100%"><feTurbulence type="fractalNoise" baseFrequency="0.35" numOctaves="2" seed="4"/><feColorMatrix type="matrix" values="0 0 0 0 0.5  0 0 0 0 0.5  0 0 0 0 0.5  0 0 0 1.2 -0.45"/></filter></defs>
<rect x="475" y="52.4" width="37.5" height="71.1" filter="url(#grain)" opacity="0.35"/>
<rect x="475" y="52.4" width="37.5" height="2" fill="#7a7a7a" opacity="0.5"/>
<ellipse cx="496" cy="64.5" rx="3" ry="1.2" fill="#9a9a9a" opacity="0.6"/><ellipse cx="505" cy="64" rx="2.5" ry="1" fill="#999" opacity="0.5"/>
<g filter="url(#blur1)"><rect x="478.4" y="89.9" width="10.6" height="3.5" rx="1.5" fill="#0a0a0a"/><rect x="489.2" y="90.1" width="10.8" height="3.1" rx="1.4" fill="#1a1a1a"/><circle cx="480.3" cy="65.6" r="0.9" fill="#222"/><rect x="511.2" y="67.6" width="1.2" height="3" fill="#222"/></g>
<text x="436" y="92.7" font-size="7" text-anchor="start" fill="#111" font-weight="bold" font-style="normal" font-family="Liberation Serif" textLength="26.5" lengthAdjust="spacingAndGlyphs" >IB:RBM38</text>
<line x1="515.9" y1="84.4" x2="520.4" y2="84.4" stroke="#666" stroke-width="0.8" />
<text x="520.6" y="86.6" font-size="6.8" text-anchor="start" fill="#111" font-weight="bold" font-style="normal" font-family="Liberation Serif" textLength="18.6" lengthAdjust="spacingAndGlyphs" >35 kDa</text>
<line x1="515.9" y1="94.4" x2="520.4" y2="94.4" stroke="#999" stroke-width="0.8" />
<text x="520.6" y="96.6" font-size="6.8" text-anchor="start" fill="#111" font-weight="bold" font-style="normal" font-family="Liberation Serif" textLength="18.6" lengthAdjust="spacingAndGlyphs" >25 kDa</text>
<text x="4.4" y="10.9" font-size="7.4" text-anchor="start" fill="#111" font-weight="bold" font-style="normal" font-family="Liberation Serif" >A</text>
<rect x="11.7" y="18.6" width="67.2" height="82" fill="none" stroke="#3a3a3a" stroke-width="1.3"/>
<line x1="78.9" y1="18.6" x2="101.6" y2="18.6" stroke="#3a3a3a" stroke-width="1.3" />
<line x1="78.9" y1="100.6" x2="101" y2="87.9" stroke="#222" stroke-width="1.2" />
<rect x="195.4" y="18.4" width="71.6" height="82.2" fill="none" stroke="#3a3a3a" stroke-width="1.3"/>
<line x1="177.8" y1="18.4" x2="195.4" y2="18.4" stroke="#3a3a3a" stroke-width="1.3" />
<line x1="188.5" y1="99" x2="195.4" y2="100.6" stroke="#222" stroke-width="1.2" />
<text x="32.5" y="112" font-size="7.2" text-anchor="start" fill="#111" font-weight="bold" font-style="normal" font-family="Liberation Serif" textLength="19.2" lengthAdjust="spacingAndGlyphs" >RBM38</text>
<text x="121.9" y="112" font-size="7.2" text-anchor="start" fill="#111" font-weight="bold" font-style="normal" font-family="Liberation Serif" textLength="37" lengthAdjust="spacingAndGlyphs" >Etotal: -547.96</text>
<text x="209.5" y="112" font-size="7.2" text-anchor="start" fill="#111" font-weight="bold" font-style="normal" font-family="Liberation Serif" textLength="37.4" lengthAdjust="spacingAndGlyphs" >LncRNA-GAS5</text>
<polyline points="34.5,23.5 34.53,23.55 34.59,23.66 34.69,23.83 34.81,24.05 34.97,24.32 35.16,24.65 35.38,25.03 35.62,25.47 35.86,25.91 36.08,26.37 36.28,26.83 36.47,27.3 36.64,27.77 36.8,28.26 36.94,28.75 37.06,29.25 37.17,29.69 37.27,30.06 37.34,30.38 37.41,30.62 37.45,30.81 37.48,30.94 37.5,31" fill="none" stroke="#8a6a6a" stroke-width="0.8" stroke-linejoin="round" stroke-linecap="round" opacity="1.0"/>
<polyline points="37.5,31 37.49,31.06 37.47,31.19 37.43,31.38 37.39,31.62 37.34,31.94 37.27,32.31 37.19,32.75 37.11,33.25 37.07,33.77 37.1,34.32 37.17,34.88 37.3,35.47 37.49,36.08 37.73,36.71 38.03,37.36 38.38,38.04 38.81,38.65 39.34,39.21 39.95,39.71 40.65,40.14 41.44,40.52 42.31,40.84 43.27,41.1 44.32,41.3 45.37,41.49 46.41,41.67 47.44,41.84 48.46,42.01 49.48,42.16 50.49,42.3 51.5,42.44 52.5,42.56 53.46,42.67 54.37,42.78 55.24,42.86 56.06,42.94 56.84,43 57.58,43.05 58.27,43.09 58.92,43.11 59.52,43.19 60.07,43.33 60.56,43.53 60.99,43.78 61.38,44.08 61.71,44.44 61.99,44.86 62.21,45.34 62.46,45.8 62.72,46.25 63,46.69 63.3,47.11 63.62,47.53 63.96,47.92 64.31,48.31 64.69,48.69 65.03,49.09 65.34,49.53 65.62,50 65.88,50.5 66.09,51.03 66.28,51.59 66.44,52.19 66.56,52.81 66.62,53.41 66.62,53.97 66.56,54.5 66.44,55 66.25,55.47 66,55.91 65.69,56.31 65.31,56.69 64.92,56.98 64.52,57.2 64.09,57.34 63.66,57.41 63.2,57.39 62.73,57.3 62.25,57.12 61.75,56.88 61.27,56.72 60.8,56.66 60.34,56.69 59.91,56.81 59.48,57.03 59.08,57.34 58.69,57.75 58.31,58.25 57.97,58.78 57.66,59.34 57.38,59.94 57.12,60.56 56.91,61.22 56.72,61.91 56.56,62.62 56.44,63.38 56.33,64.03 56.23,64.59 56.16,65.06 56.09,65.44 56.05,65.72 56.02,65.91 56,66" fill="none" stroke="#cf8e8e" stroke-width="1.25" stroke-linejoin="round" stroke-linecap="round" opacity="1.0"/>
<polyline points="26,39 26.03,38.95 26.09,38.84 26.19,38.67 26.31,38.45 26.47,38.18 26.66,37.85 26.88,37.47 27.12,37.03 27.41,36.63 27.72,36.27 28.06,35.95 28.44,35.67 28.84,35.43 29.28,35.23 29.75,35.06 30.25,34.94 30.74,34.87 31.23,34.85 31.7,34.89 32.17,34.98 32.63,35.13 33.09,35.34 33.53,35.59 33.97,35.91 34.35,36.18 34.68,36.41 34.95,36.61 35.17,36.77 35.34,36.88 35.45,36.96 35.5,37" fill="none" stroke="#cf8e8e" stroke-width="1.25" stroke-linejoin="round" stroke-linecap="round" opacity="1.0"/>
<polyline points="24.5,60 24.55,59.98 24.66,59.93 24.83,59.86 25.05,59.77 25.32,59.65 25.65,59.51 26.03,59.34 26.47,59.16 26.9,59.02 27.32,58.92 27.73,58.88 28.14,58.88 28.54,58.92 28.93,59.02 29.31,59.16 29.69,59.34 30.06,59.49 30.44,59.6 30.81,59.67 31.19,59.7 31.56,59.7 31.94,59.65 32.31,59.56 32.69,59.44 33.02,59.33 33.3,59.23 33.53,59.16 33.72,59.09 33.86,59.05 33.95,59.02 34,59" fill="none" stroke="#cf8e8e" stroke-width="1.25" stroke-linejoin="round" stroke-linecap="round" opacity="1.0"/>
<polyline points="27.5,60 27.49,60.09 27.48,60.28 27.45,60.56 27.42,60.94 27.38,61.41 27.34,61.97 27.28,62.62 27.22,63.38 27.17,64.1 27.14,64.81 27.12,65.49 27.11,66.16 27.12,66.8 27.14,67.42 27.18,68.01 27.23,68.59 27.27,69.09 27.31,69.52 27.34,69.88 27.36,70.17 27.38,70.38 27.39,70.53 27.4,70.6" fill="none" stroke="#cf8e8e" stroke-width="1.25" stroke-linejoin="round" stroke-linecap="round" opacity="1.0"/>
<polyline points="56,70.5 56.06,70.45 56.19,70.34 56.38,70.17 56.62,69.95 56.94,69.68 57.31,69.35 57.75,68.97 58.25,68.53 58.73,68.1 59.2,67.68 59.66,67.27 60.09,66.86 60.52,66.46 60.92,66.07 61.31,65.69 61.69,65.31 62.09,64.96 62.53,64.63 63,64.33 63.5,64.05 64.03,63.79 64.59,63.55 65.19,63.34 65.81,63.16 66.42,63.05 67.02,63.02 67.59,63.06 68.16,63.19 68.7,63.39 69.23,63.67 69.75,64.03 70.25,64.47 70.73,64.96 71.18,65.51 71.61,66.11 72.02,66.77 72.4,67.48 72.76,68.24 73.09,69.06 73.41,69.94 73.66,70.81 73.87,71.69 74.02,72.56 74.11,73.44 74.15,74.31 74.13,75.19 74.06,76.06 73.94,76.94 73.77,77.76 73.57,78.52 73.33,79.23 73.05,79.89 72.73,80.49 72.37,81.04 71.97,81.53 71.53,81.97 71.09,82.31 70.63,82.56 70.17,82.72 69.7,82.78 69.23,82.75 68.74,82.62 68.25,82.41 67.75,82.09 67.27,81.77 66.8,81.45 66.34,81.11 65.91,80.77 65.48,80.41 65.08,80.05 64.69,79.69 64.31,79.31 63.92,78.94 63.52,78.56 63.09,78.19 62.66,77.81 62.2,77.44 61.73,77.06 61.25,76.69 60.75,76.31 60.27,75.95 59.8,75.61 59.34,75.28 58.91,74.97 58.48,74.67 58.08,74.39 57.69,74.12 57.31,73.88 56.98,73.66 56.7,73.47 56.47,73.31 56.28,73.19 56.14,73.09 56.05,73.03 56,73" fill="none" stroke="#cf8e8e" stroke-width="1.25" stroke-linejoin="round" stroke-linecap="round" opacity="1.0"/>
<polyline points="52,47 52.08,46.98 52.23,46.95 52.47,46.91 52.78,46.84 53.17,46.77 53.64,46.67 54.19,46.56 54.81,46.44 55.44,46.37 56.06,46.35 56.69,46.39 57.31,46.48 57.94,46.63 58.56,46.84 59.19,47.09 59.81,47.41 60.4,47.75 60.95,48.12 61.45,48.53 61.92,48.97 62.35,49.44 62.74,49.94 63.09,50.47 63.41,51.03 63.72,51.63 64.03,52.27 64.34,52.95 64.66,53.67 64.97,54.43 65.28,55.23 65.59,56.06 65.91,56.94 66.12,57.8 66.23,58.64 66.23,59.47 66.14,60.28 65.95,61.08 65.65,61.86 65.25,62.62 64.75,63.38 64.31,64.03 63.94,64.59 63.62,65.06 63.38,65.44 63.19,65.72 63.06,65.91 63,66" fill="none" stroke="#cf8e8e" stroke-width="0.8" stroke-linejoin="round" stroke-linecap="round" opacity="0.85"/>
<polyline points="33,73 32.97,72.98 32.91,72.93 32.81,72.86 32.69,72.77 32.53,72.65 32.34,72.51 32.12,72.34 31.88,72.16 31.61,71.98 31.33,71.83 31.03,71.69 30.72,71.56 30.39,71.45 30.05,71.36 29.69,71.28 29.31,71.22 28.98,71.16 28.7,71.12 28.47,71.08 28.28,71.05 28.14,71.02 28.05,71.01 28,71" fill="none" stroke="#cf8e8e" stroke-width="1.1" stroke-linejoin="round" stroke-linecap="round" opacity="1.0"/>
<polyline points="58,52 58.06,52.06 58.19,52.19 58.38,52.38 58.62,52.62 58.94,52.94 59.31,53.31 59.75,53.75 60.25,54.25 60.66,54.78 60.97,55.34 61.19,55.94 61.31,56.56 61.34,57.22 61.28,57.91 61.12,58.62 60.88,59.38 60.66,60.03 60.47,60.59 60.31,61.06 60.19,61.44 60.09,61.72 60.03,61.91 60,62" fill="none" stroke="#cf8e8e" stroke-width="0.7" stroke-linejoin="round" stroke-linecap="round" opacity="0.8"/>
<path d="M43.86,24.39L43.97,24.52L45.72,25.48L45.62,25.35ZM43.97,24.52L44.01,24.77L45.77,25.72L45.72,25.48ZM44.01,24.77L44,25.12L45.76,26.07L45.77,25.72ZM44,25.12L43.93,25.57L45.69,26.53L45.76,26.07ZM43.93,25.57L43.81,26.12L45.57,27.07L45.69,26.53ZM43.81,26.12L43.65,26.74L45.41,27.69L45.57,27.07ZM43.65,26.74L43.45,27.43L45.21,28.39L45.41,27.69ZM43.45,27.43L43.22,28.18L44.98,29.13L45.21,28.39ZM43.22,28.18L42.98,28.95L44.74,29.91L44.98,29.13ZM42.98,28.95L42.72,29.75L44.48,30.7L44.74,29.91ZM42.72,29.75L42.47,30.55L44.23,31.5L44.48,30.7ZM42.47,30.55L42.22,31.32L43.98,32.28L44.23,31.5ZM42.22,31.32L42,32.07L43.75,33.02L43.98,32.28ZM42,32.07L41.8,32.76L43.56,33.71L43.75,33.02ZM41.8,32.76L41.64,33.38L43.39,34.34L43.56,33.71ZM41.64,33.38L41.52,33.93L43.27,34.88L43.39,34.34ZM41.52,33.93L41.45,34.38L43.21,35.33L43.27,34.88ZM41.45,34.38L41.43,34.73L43.19,35.69L43.21,35.33ZM41.43,34.73L41.48,34.97L43.24,35.93L43.19,35.69ZM41.48,34.97L41.59,35.11L43.34,36.06L43.24,35.93ZM49.33,27.36L49.43,27.49L51.19,28.45L51.09,28.32ZM49.43,27.49L49.48,27.74L51.24,28.69L51.19,28.45ZM49.48,27.74L49.47,28.09L51.22,29.04L51.24,28.69ZM49.47,28.09L49.4,28.54L51.16,29.49L51.22,29.04ZM49.4,28.54L49.28,29.08L51.04,30.04L51.16,29.49ZM49.28,29.08L49.12,29.71L50.87,30.66L51.04,30.04ZM49.12,29.71L48.92,30.4L50.68,31.36L50.87,30.66ZM48.92,30.4L48.69,31.14L50.45,32.1L50.68,31.36ZM48.69,31.14L48.45,31.92L50.2,32.88L50.45,32.1ZM48.45,31.92L48.19,32.72L49.95,33.67L50.2,32.88ZM48.19,32.72L47.94,33.51L49.69,34.47L49.95,33.67ZM47.94,33.51L47.69,34.29L49.45,35.25L49.69,34.47ZM47.69,34.29L47.46,35.04L49.22,35.99L49.45,35.25ZM47.46,35.04L47.27,35.73L49.02,36.68L49.22,35.99ZM47.27,35.73L47.1,36.35L48.86,37.31L49.02,36.68ZM47.1,36.35L46.99,36.9L48.74,37.85L48.86,37.31ZM46.99,36.9L46.92,37.35L48.67,38.3L48.74,37.85ZM46.92,37.35L46.9,37.7L48.66,38.65L48.67,38.3ZM46.9,37.7L46.95,37.94L48.71,38.9L48.66,38.65ZM46.95,37.94L47.05,38.07L48.81,39.03L48.71,38.9ZM54.8,30.33L54.9,30.46L56.66,31.42L56.56,31.28ZM54.9,30.46L54.95,30.71L56.71,31.66L56.66,31.42ZM54.95,30.71L54.93,31.06L56.69,32.01L56.71,31.66ZM54.93,31.06L54.87,31.51L56.62,32.46L56.69,32.01ZM54.87,31.51L54.75,32.05L56.51,33.01L56.62,32.46ZM54.75,32.05L54.59,32.68L56.34,33.63L56.51,33.01ZM54.59,32.68L54.39,33.37L56.14,34.32L56.34,33.63ZM54.39,33.37L54.16,34.11L55.92,35.07L56.14,34.32ZM54.16,34.11L53.92,34.89L55.67,35.85L55.92,35.07ZM53.92,34.89L53.66,35.69L55.42,36.64L55.67,35.85ZM53.66,35.69L53.41,36.48L55.16,37.44L55.42,36.64ZM53.41,36.48L53.16,37.26L54.92,38.22L55.16,37.44ZM53.16,37.26L52.93,38L54.69,38.96L54.92,38.22ZM52.93,38L52.73,38.7L54.49,39.65L54.69,38.96ZM52.73,38.7L52.57,39.32L54.33,40.27L54.49,39.65ZM52.57,39.32L52.45,39.87L54.21,40.82L54.33,40.27ZM52.45,39.87L52.39,40.32L54.14,41.27L54.21,40.82ZM52.39,40.32L52.37,40.67L54.13,41.62L54.14,41.27ZM52.37,40.67L52.42,40.91L54.17,41.87L54.13,41.62ZM52.42,40.91L52.52,41.04L54.28,42L54.17,41.87Z" fill="#17808c" stroke="#17808c" stroke-width="0.3"/>
<path d="M35.59,31.85L35.76,31.87L38.57,33.39L38.4,33.38ZM35.76,31.87L35.99,31.77L38.8,33.3L38.57,33.39ZM35.99,31.77L36.27,31.57L39.08,33.1L38.8,33.3ZM36.27,31.57L36.61,31.27L39.43,32.79L39.08,33.1ZM36.61,31.27L37.01,30.87L39.82,32.4L39.43,32.79ZM37.01,30.87L37.44,30.39L40.25,31.92L39.82,32.4ZM37.44,30.39L37.91,29.85L40.73,31.38L40.25,31.92ZM37.91,29.85L38.41,29.26L41.23,30.78L40.73,31.38ZM38.41,29.26L38.93,28.63L41.74,30.15L41.23,30.78ZM38.93,28.63L39.46,27.98L42.27,29.51L41.74,30.15ZM39.46,27.98L39.99,27.33L42.8,28.86L42.27,29.51ZM39.99,27.33L40.51,26.7L43.32,28.23L42.8,28.86ZM40.51,26.7L41.01,26.11L43.82,27.63L43.32,28.23ZM41.01,26.11L41.48,25.56L44.29,27.09L43.82,27.63ZM41.48,25.56L41.92,25.09L44.73,26.61L44.29,27.09ZM41.92,25.09L42.31,24.69L45.12,26.22L44.73,26.61ZM42.31,24.69L42.65,24.39L45.46,25.91L45.12,26.22ZM42.65,24.39L42.94,24.18L45.75,25.71L45.46,25.91ZM42.94,24.18L43.17,24.09L45.98,25.62L45.75,25.71ZM43.17,24.09L43.33,24.11L46.15,25.63L45.98,25.62ZM41.06,34.82L41.23,34.84L44.04,36.36L43.87,36.35ZM41.23,34.84L41.45,34.74L44.27,36.27L44.04,36.36ZM41.45,34.74L41.74,34.54L44.55,36.07L44.27,36.27ZM41.74,34.54L42.08,34.24L44.9,35.76L44.55,36.07ZM42.08,34.24L42.48,33.84L45.29,35.37L44.9,35.76ZM42.48,33.84L42.91,33.36L45.72,34.89L45.29,35.37ZM42.91,33.36L43.38,32.82L46.19,34.35L45.72,34.89ZM43.38,32.82L43.88,32.22L46.69,33.75L46.19,34.35ZM43.88,32.22L44.4,31.6L47.21,33.12L46.69,33.75ZM44.4,31.6L44.93,30.95L47.74,32.47L47.21,33.12ZM44.93,30.95L45.46,30.3L48.27,31.83L47.74,32.47ZM45.46,30.3L45.98,29.67L48.79,31.2L48.27,31.83ZM45.98,29.67L46.48,29.08L49.29,30.6L48.79,31.2ZM46.48,29.08L46.95,28.53L49.76,30.06L49.29,30.6ZM46.95,28.53L47.38,28.06L50.2,29.58L49.76,30.06ZM47.38,28.06L47.78,27.66L50.59,29.19L50.2,29.58ZM47.78,27.66L48.12,27.36L50.93,28.88L50.59,29.19ZM48.12,27.36L48.41,27.15L51.22,28.68L50.93,28.88ZM48.41,27.15L48.63,27.06L51.45,28.59L51.22,28.68ZM48.63,27.06L48.8,27.08L51.61,28.6L51.45,28.59ZM46.53,37.79L46.69,37.81L49.51,39.33L49.34,39.31ZM46.69,37.81L46.92,37.71L49.73,39.24L49.51,39.33ZM46.92,37.71L47.21,37.51L50.02,39.03L49.73,39.24ZM47.21,37.51L47.55,37.2L50.36,38.73L50.02,39.03ZM47.55,37.2L47.94,36.81L50.76,38.33L50.36,38.73ZM47.94,36.81L48.38,36.33L51.19,37.86L50.76,38.33ZM48.38,36.33L48.85,35.79L51.66,37.32L51.19,37.86ZM48.85,35.79L49.35,35.19L52.16,36.72L51.66,37.32ZM49.35,35.19L49.87,34.56L52.68,36.09L52.16,36.72ZM49.87,34.56L50.4,33.92L53.21,35.44L52.68,36.09ZM50.4,33.92L50.93,33.27L53.74,34.8L53.21,35.44ZM50.93,33.27L51.45,32.64L54.26,34.17L53.74,34.8ZM51.45,32.64L51.95,32.04L54.76,33.57L54.26,34.17ZM51.95,32.04L52.42,31.5L55.23,33.03L54.76,33.57ZM52.42,31.5L52.85,31.02L55.67,32.55L55.23,33.03ZM52.85,31.02L53.25,30.63L56.06,32.16L55.67,32.55ZM53.25,30.63L53.59,30.32L56.4,31.85L56.06,32.16ZM53.59,30.32L53.87,30.12L56.69,31.65L56.4,31.85ZM53.87,30.12L54.1,30.03L56.92,31.55L56.69,31.65ZM54.1,30.03L54.27,30.04L57.08,31.57L56.92,31.55ZM52,40.76L52.16,40.77L54.98,42.3L54.81,42.28ZM52.16,40.77L52.39,40.68L55.2,42.21L54.98,42.3ZM52.39,40.68L52.68,40.48L55.49,42L55.2,42.21ZM52.68,40.48L53.02,40.17L55.83,41.7L55.49,42ZM53.02,40.17L53.41,39.78L56.22,41.3L55.83,41.7ZM53.41,39.78L53.85,39.3L56.66,40.83L56.22,41.3ZM53.85,39.3L54.32,38.76L57.13,40.28L56.66,40.83ZM54.32,38.76L54.82,38.16L57.63,39.69L57.13,40.28Z" fill="#3fd6df" stroke="#3fd6df" stroke-width="0.3"/>
<path d="M33.32,40.28L33.4,40.46L34.58,41.82L34.5,41.64ZM33.4,40.46L33.4,40.71L34.58,42.08L34.58,41.82ZM33.4,40.71L33.32,41.04L34.5,42.4L34.58,42.08ZM33.32,41.04L33.17,41.42L34.35,42.78L34.5,42.4ZM33.17,41.42L32.95,41.87L34.12,43.23L34.35,42.78ZM32.95,41.87L32.67,42.36L33.84,43.72L34.12,43.23ZM32.67,42.36L32.33,42.9L33.51,44.26L33.84,43.72ZM32.33,42.9L31.97,43.47L33.14,44.83L33.51,44.26ZM31.97,43.47L31.57,44.06L32.75,45.43L33.14,44.83ZM31.57,44.06L31.16,44.67L32.34,46.03L32.75,45.43ZM31.16,44.67L30.75,45.27L31.93,46.64L32.34,46.03ZM30.75,45.27L30.36,45.87L31.53,47.23L31.93,46.64ZM30.36,45.87L29.99,46.44L31.17,47.8L31.53,47.23ZM29.99,46.44L29.66,46.98L30.83,48.34L31.17,47.8ZM29.66,46.98L29.38,47.47L30.55,48.83L30.83,48.34ZM29.38,47.47L29.15,47.92L30.33,49.28L30.55,48.83ZM29.15,47.92L29,48.3L30.18,49.66L30.33,49.28ZM29,48.3L28.92,48.62L30.1,49.99L30.18,49.66ZM28.92,48.62L28.92,48.88L30.1,50.24L30.1,49.99ZM28.92,48.88L29,49.06L30.18,50.42L30.1,50.24ZM38.32,46.08L38.4,46.26L39.58,47.62L39.5,47.44ZM38.4,46.26L38.4,46.51L39.58,47.88L39.58,47.62ZM38.4,46.51L38.32,46.84L39.5,48.2L39.58,47.88ZM38.32,46.84L38.17,47.22L39.35,48.58L39.5,48.2ZM38.17,47.22L37.95,47.67L39.12,49.03L39.35,48.58ZM37.95,47.67L37.67,48.16L38.84,49.52L39.12,49.03ZM37.67,48.16L37.33,48.7L38.51,50.06L38.84,49.52ZM37.33,48.7L36.97,49.27L38.14,50.63L38.51,50.06ZM36.97,49.27L36.57,49.86L37.75,51.23L38.14,50.63ZM36.57,49.86L36.16,50.47L37.34,51.83L37.75,51.23ZM36.16,50.47L35.75,51.07L36.93,52.44L37.34,51.83ZM35.75,51.07L35.36,51.67L36.53,53.03L36.93,52.44ZM35.36,51.67L34.99,52.24L36.17,53.6L36.53,53.03ZM34.99,52.24L34.66,52.78L35.83,54.14L36.17,53.6ZM34.66,52.78L34.38,53.27L35.55,54.63L35.83,54.14ZM34.38,53.27L34.15,53.72L35.33,55.08L35.55,54.63ZM34.15,53.72L34,54.1L35.18,55.46L35.33,55.08ZM34,54.1L33.92,54.42L35.1,55.79L35.18,55.46ZM33.92,54.42L33.92,54.68L35.1,56.04L35.1,55.79ZM33.92,54.68L34,54.86L35.18,56.22L35.1,56.04Z" fill="#17808c" stroke="#17808c" stroke-width="0.3"/>
<path d="M23.61,42.8L23.78,42.91L25.74,45.18L25.57,45.07ZM23.78,42.91L24.03,42.95L25.99,45.22L25.74,45.18ZM24.03,42.95L24.36,42.92L26.32,45.19L25.99,45.22ZM24.36,42.92L24.76,42.82L26.72,45.09L26.32,45.19ZM24.76,42.82L25.24,42.67L27.19,44.94L26.72,45.09ZM25.24,42.67L25.77,42.46L27.73,44.73L27.19,44.94ZM25.77,42.46L26.35,42.21L28.31,44.49L27.73,44.73ZM26.35,42.21L26.97,41.93L28.93,44.2L28.31,44.49ZM26.97,41.93L27.61,41.63L29.57,43.9L28.93,44.2ZM27.61,41.63L28.27,41.31L30.23,43.59L29.57,43.9ZM28.27,41.31L28.93,41L30.89,43.27L30.23,43.59ZM28.93,41L29.57,40.7L31.53,42.97L30.89,43.27ZM29.57,40.7L30.19,40.41L32.15,42.69L31.53,42.97ZM30.19,40.41L30.77,40.17L32.73,42.44L32.15,42.69ZM30.77,40.17L31.31,39.96L33.26,42.23L32.73,42.44ZM31.31,39.96L31.78,39.81L33.74,42.08L33.26,42.23ZM31.78,39.81L32.18,39.71L34.14,41.98L33.74,42.08ZM32.18,39.71L32.51,39.68L34.47,41.95L34.14,41.98ZM32.51,39.68L32.76,39.72L34.72,41.99L34.47,41.95ZM32.76,39.72L32.93,39.83L34.89,42.1L34.72,41.99ZM28.61,48.6L28.78,48.71L30.74,50.98L30.57,50.87ZM28.78,48.71L29.03,48.75L30.99,51.02L30.74,50.98ZM29.03,48.75L29.36,48.72L31.32,50.99L30.99,51.02ZM29.36,48.72L29.76,48.62L31.72,50.89L31.32,50.99ZM29.76,48.62L30.24,48.47L32.19,50.74L31.72,50.89ZM30.24,48.47L30.77,48.26L32.73,50.53L32.19,50.74ZM30.77,48.26L31.35,48.01L33.31,50.29L32.73,50.53ZM31.35,48.01L31.97,47.73L33.93,50L33.31,50.29ZM31.97,47.73L32.61,47.43L34.57,49.7L33.93,50ZM32.61,47.43L33.27,47.11L35.23,49.39L34.57,49.7ZM33.27,47.11L33.93,46.8L35.89,49.07L35.23,49.39ZM33.93,46.8L34.57,46.5L36.53,48.77L35.89,49.07ZM34.57,46.5L35.19,46.21L37.15,48.49L36.53,48.77ZM35.19,46.21L35.77,45.97L37.73,48.24L37.15,48.49ZM35.77,45.97L36.31,45.76L38.26,48.03L37.73,48.24ZM36.31,45.76L36.78,45.61L38.74,47.88L38.26,48.03ZM36.78,45.61L37.18,45.51L39.14,47.78L38.74,47.88ZM37.18,45.51L37.51,45.48L39.47,47.75L39.14,47.78ZM37.51,45.48L37.76,45.52L39.72,47.79L39.47,47.75ZM37.76,45.52L37.93,45.63L39.89,47.9L39.72,47.79ZM33.61,54.4L33.78,54.51L35.74,56.78L35.57,56.67ZM33.78,54.51L34.03,54.55L35.99,56.82L35.74,56.78ZM34.03,54.55L34.36,54.52L36.32,56.79L35.99,56.82ZM34.36,54.52L34.76,54.42L36.72,56.69L36.32,56.79ZM34.76,54.42L35.24,54.27L37.19,56.54L36.72,56.69ZM35.24,54.27L35.77,54.06L37.73,56.33L37.19,56.54ZM35.77,54.06L36.35,53.81L38.31,56.09L37.73,56.33ZM36.35,53.81L36.97,53.53L38.93,55.8L38.31,56.09ZM36.97,53.53L37.61,53.23L39.57,55.5L38.93,55.8ZM37.61,53.23L38.27,52.91L40.23,55.19L39.57,55.5ZM38.27,52.91L38.93,52.6L40.89,54.87L40.23,55.19ZM38.93,52.6L39.57,52.3L41.53,54.57L40.89,54.87ZM39.57,52.3L40.19,52.01L42.15,54.29L41.53,54.57ZM40.19,52.01L40.77,51.77L42.73,54.04L42.15,54.29ZM40.77,51.77L41.31,51.56L43.26,53.83L42.73,54.04ZM41.31,51.56L41.78,51.41L43.74,53.68L43.26,53.83ZM41.78,51.41L42.18,51.31L44.14,53.58L43.74,53.68ZM42.18,51.31L42.51,51.28L44.47,53.55L44.14,53.58ZM42.51,51.28L42.76,51.32L44.72,53.59L44.47,53.55ZM42.76,51.32L42.93,51.43L44.89,53.7L44.72,53.59Z" fill="#3fd6df" stroke="#3fd6df" stroke-width="0.3"/>
<path d="M41.1,79.55L41.06,79.79L41.13,82.19L41.17,81.95ZM41.06,79.79L40.92,80.04L40.99,82.44L41.13,82.19ZM40.92,80.04L40.69,80.29L40.76,82.69L40.99,82.44ZM40.69,80.29L40.37,80.54L40.44,82.94L40.76,82.69ZM40.37,80.54L39.97,80.8L40.04,83.2L40.44,82.94ZM39.97,80.8L39.5,81.05L39.57,83.45L40.04,83.2ZM39.5,81.05L38.97,81.31L39.04,83.71L39.57,83.45ZM38.97,81.31L38.4,81.57L38.46,83.97L39.04,83.71ZM38.4,81.57L37.79,81.83L37.86,84.23L38.46,83.97ZM37.79,81.83L37.17,82.09L37.24,84.49L37.86,84.23ZM37.17,82.09L36.56,82.35L36.62,84.75L37.24,84.49ZM36.56,82.35L35.95,82.61L36.02,85.01L36.62,84.75ZM35.95,82.61L35.38,82.87L35.45,85.27L36.02,85.01ZM35.38,82.87L34.85,83.13L34.92,85.53L35.45,85.27ZM34.85,83.13L34.38,83.39L34.45,85.79L34.92,85.53ZM34.38,83.39L33.98,83.64L34.05,86.04L34.45,85.79ZM33.98,83.64L33.66,83.9L33.73,86.29L34.05,86.04ZM33.66,83.9L33.43,84.15L33.5,86.54L33.73,86.29ZM33.43,84.15L33.29,84.39L33.36,86.79L33.5,86.54ZM33.29,84.39L33.25,84.64L33.31,87.04L33.36,86.79ZM41.38,89.27L41.34,89.51L41.41,91.91L41.45,91.67ZM41.34,89.51L41.2,89.76L41.27,92.16L41.41,91.91ZM41.2,89.76L40.97,90.01L41.03,92.41L41.27,92.16ZM40.97,90.01L40.64,90.26L40.71,92.66L41.03,92.41ZM40.64,90.26L40.24,90.52L40.31,92.92L40.71,92.66ZM40.24,90.52L39.77,90.78L39.84,93.17L40.31,92.92ZM39.77,90.78L39.25,91.03L39.31,93.43L39.84,93.17ZM39.25,91.03L38.67,91.29L38.74,93.69L39.31,93.43ZM38.67,91.29L38.07,91.55L38.14,93.95L38.74,93.69ZM38.07,91.55L37.45,91.81L37.52,94.21L38.14,93.95ZM37.45,91.81L36.83,92.08L36.9,94.47L37.52,94.21ZM36.83,92.08L36.23,92.34L36.3,94.73L36.9,94.47Z" fill="#17808c" stroke="#17808c" stroke-width="0.3"/>
<path d="M32.95,74.22L33,74.46L33.11,78.26L33.06,78.01ZM33,74.46L33.16,74.7L33.27,78.49L33.11,78.26ZM33.16,74.7L33.4,74.93L33.51,78.73L33.27,78.49ZM33.4,74.93L33.74,75.17L33.85,78.96L33.51,78.73ZM33.74,75.17L34.15,75.4L34.26,79.2L33.85,78.96ZM34.15,75.4L34.64,75.63L34.75,79.42L34.26,79.2ZM34.64,75.63L35.18,75.85L35.29,79.65L34.75,79.42ZM35.18,75.85L35.77,76.08L35.87,79.88L35.29,79.65ZM35.77,76.08L36.38,76.31L36.49,80.1L35.87,79.88ZM36.38,76.31L37.02,76.53L37.12,80.33L36.49,80.1ZM37.02,76.53L37.65,76.76L37.76,80.55L37.12,80.33ZM37.65,76.76L38.26,76.98L38.37,80.78L37.76,80.55ZM38.26,76.98L38.85,77.21L38.96,81.01L38.37,80.78ZM38.85,77.21L39.39,77.44L39.5,81.23L38.96,81.01ZM39.39,77.44L39.88,77.67L39.99,81.46L39.5,81.23ZM39.88,77.67L40.29,77.9L40.4,81.7L39.99,81.46ZM40.29,77.9L40.63,78.13L40.73,81.93L40.4,81.7ZM40.63,78.13L40.87,78.37L40.98,82.17L40.73,81.93ZM40.87,78.37L41.03,78.61L41.14,82.4L40.98,82.17ZM41.03,78.61L41.08,78.85L41.19,82.65L41.14,82.4ZM33.23,83.94L33.28,84.18L33.39,87.98L33.33,87.74ZM33.28,84.18L33.43,84.42L33.54,88.22L33.39,87.98ZM33.43,84.42L33.68,84.65L33.79,88.45L33.54,88.22ZM33.68,84.65L34.02,84.89L34.13,88.69L33.79,88.45ZM34.02,84.89L34.43,85.12L34.54,88.92L34.13,88.69ZM34.43,85.12L34.91,85.35L35.02,89.15L34.54,88.92ZM34.91,85.35L35.46,85.58L35.57,89.37L35.02,89.15ZM35.46,85.58L36.04,85.8L36.15,89.6L35.57,89.37ZM36.04,85.8L36.66,86.03L36.77,89.83L36.15,89.6ZM36.66,86.03L37.29,86.25L37.4,90.05L36.77,89.83ZM37.29,86.25L37.93,86.48L38.03,90.28L37.4,90.05ZM37.93,86.48L38.54,86.7L38.65,90.5L38.03,90.28ZM38.54,86.7L39.13,86.93L39.24,90.73L38.65,90.5ZM39.13,86.93L39.67,87.16L39.78,90.96L39.24,90.73ZM39.67,87.16L40.15,87.39L40.26,91.19L39.78,90.96ZM40.15,87.39L40.57,87.62L40.68,91.42L40.26,91.19ZM40.57,87.62L40.9,87.85L41.01,91.65L40.68,91.42ZM40.9,87.85L41.15,88.09L41.26,91.89L41.01,91.65ZM41.15,88.09L41.3,88.33L41.41,92.13L41.26,91.89ZM41.3,88.33L41.36,88.57L41.47,92.37L41.41,92.13Z" fill="#3fd6df" stroke="#3fd6df" stroke-width="0.3"/>
<polygon points="35.7,51.47 52.48,68.69 51.77,69.39 56.5,69.8 56.21,65.06 55.49,65.76 38.7,48.53" fill="#c81cc8"/>
<polygon points="32.78,60.51 50.51,69.04 50.08,69.94 54.4,68.8 52.59,64.71 52.16,65.61 34.42,57.09" fill="#c81cc8"/>
<polygon points="34.4,73.1 52.8,74.1 52.75,75.1 56.5,72.4 53.06,69.31 53.01,70.31 34.6,69.3" fill="#c81cc8"/>
<circle cx="21.8" cy="47.8" r="2.8" fill="#d07e76" stroke="#b8665f" stroke-width="0.4"/>
<circle cx="21.2" cy="47.099999999999994" r="1.4" fill="#e6a8a0"/>
<circle cx="19.0" cy="50.8" r="2.8" fill="#d07e76" stroke="#b8665f" stroke-width="0.4"/>
<circle cx="18.4" cy="50.099999999999994" r="1.4" fill="#e6a8a0"/>
<circle cx="22.4" cy="53.2" r="2.8" fill="#d07e76" stroke="#b8665f" stroke-width="0.4"/>
<circle cx="21.799999999999997" cy="52.5" r="1.4" fill="#e6a8a0"/>
<circle cx="18.0" cy="55.8" r="2.8" fill="#d07e76" stroke="#b8665f" stroke-width="0.4"/>
<circle cx="17.4" cy="55.099999999999994" r="1.4" fill="#e6a8a0"/>
<circle cx="21.4" cy="58.2" r="2.9" fill="#d07e76" stroke="#b8665f" stroke-width="0.4"/>
<circle cx="20.799999999999997" cy="57.5" r="1.45" fill="#e6a8a0"/>
<circle cx="17.4" cy="60.8" r="2.6" fill="#d07e76" stroke="#b8665f" stroke-width="0.4"/>
<circle cx="16.799999999999997" cy="60.099999999999994" r="1.3" fill="#e6a8a0"/>
<circle cx="20.4" cy="63.0" r="2.6" fill="#d07e76" stroke="#b8665f" stroke-width="0.4"/>
<circle cx="19.799999999999997" cy="62.3" r="1.3" fill="#e6a8a0"/>
<circle cx="23.2" cy="60.2" r="2.4" fill="#d07e76" stroke="#b8665f" stroke-width="0.4"/>
<circle cx="22.599999999999998" cy="59.5" r="1.2" fill="#e6a8a0"/>
<circle cx="16.6" cy="63.6" r="2.3" fill="#d07e76" stroke="#b8665f" stroke-width="0.4"/>
<circle cx="16.0" cy="62.9" r="1.15" fill="#e6a8a0"/>
<g opacity="0.95"><path d="M92.38,61.72L94.22,62.55 M94.67,61.52L92.88,60.7 M96.75,61.29L91.61,58.95 M98.39,60.92L90.65,57.4 M99.58,60.27L90.11,55.97 M100.01,59.05L90.42,54.69 M99.39,57.52L91.76,53.88 M98.06,55.59L93.97,53.55 M96.62,53.69L96.34,53.54 M95.17,51.51L98.95,53.76 M94.11,49.47L101.31,53.96 M93.73,47.79L103.15,53.91 M94.21,46.49L104.21,53.54 M95.49,45.77L104.5,52.65 M97.35,45.68L104.22,51.13 M99.65,46.02L103.48,49.18 M102.43,46.68L102.4,46.66 M105.11,47.4L101.46,43.91 M106.89,47.79L101.1,41.83 M108.24,47.72L101.17,40.17 M109.12,47.2L101.75,39.02 M109.51,46.28L102.86,38.31 M109.61,44.93L104.34,38.1 M109.6,43.22L105.99,38.34 M109.55,41.35L107.79,38.87 M109.55,39.44L109.61,39.53 M109.74,37.61L111.31,40.23 M110.11,36L112.88,40.8 M110.7,34.72L114.28,41.16 M111.57,33.77L115.41,41.26 M112.66,33.21L116.34,41.03 M113.86,33.08L117.16,40.42 M115.2,33.31L117.85,39.49 M116.67,33.85L118.4,38.29 M118.16,34.64L118.92,36.83 M119.61,35.59L119.49,35.21 M121.03,36.59L120.09,33.55 M122.32,37.52L120.8,31.95 M123.56,38.15L121.51,30.64 M124.97,38.43L122.52,29.44 M126.07,38.05L123.59,28.97 M126.99,37.02L124.84,29.15 M127.69,35.53L126.15,29.9" stroke="#dbaeae" stroke-width="0.36" fill="none"/><polyline points="94.22,62.55 94.01,62.25 93.57,61.64 92.88,60.7 92.42,60.08 91.97,59.46 91.61,58.95 91.27,58.45 90.97,57.96 90.65,57.4 90.39,56.87 90.21,56.38 90.11,55.97 90.09,55.6 90.13,55.25 90.25,54.94 90.42,54.69 90.66,54.46 90.96,54.27 91.31,54.1 91.76,53.88 92.27,53.71 92.79,53.63 93.36,53.58 93.97,53.55 94.62,53.49 95.48,53.49 96.34,53.54 97.22,53.59 98.09,53.66 98.95,53.76 99.79,53.83 100.59,53.88 101.31,53.96 101.96,54.03 102.59,53.99 103.15,53.91 103.56,53.86 103.9,53.78 104.21,53.54 104.43,53.24 104.5,52.97 104.5,52.65 104.5,52.17 104.42,51.64 104.22,51.13 103.98,50.56 103.75,49.89 103.48,49.18 103.16,48.47 102.89,47.9 102.65,47.28 102.4,46.66 102.16,46.04 101.93,45.41 101.69,44.65 101.46,43.91 101.27,43.21 101.15,42.5 101.1,41.83 101.05,41.25 101.06,40.71 101.17,40.17 101.36,39.69 101.53,39.32 101.75,39.02 102.1,38.7 102.5,38.44 102.86,38.31 103.27,38.23 103.79,38.13 104.34,38.1 104.85,38.16 105.38,38.26 105.99,38.34 106.61,38.48 107.19,38.67 107.79,38.87 108.4,39.07 109.02,39.3 109.61,39.53 110.19,39.76 110.76,39.99 111.31,40.23 111.86,40.44 112.4,40.62 112.88,40.8 113.34,40.97 113.82,41.08 114.28,41.16 114.66,41.23 115.02,41.28 115.41,41.26 115.78,41.2 116.07,41.13 116.34,41.03 116.65,40.86 116.95,40.64 117.16,40.42 117.36,40.17 117.61,39.85 117.85,39.49 118.02,39.13 118.19,38.73 118.4,38.29 118.6,37.82 118.76,37.33 118.92,36.83 119.12,36.3 119.3,35.76 119.49,35.21 119.68,34.65 119.88,34.1 120.09,33.55 120.32,32.99 120.57,32.46 120.8,31.95 121.04,31.47 121.29,31.01 121.51,30.64 121.74,30.3 121.98,29.99 122.23,29.71 122.52,29.44 122.83,29.23 123.16,29.08 123.59,28.97 124.05,28.96 124.44,29.02 124.84,29.15 125.48,29.45 125.93,29.74 126.15,29.9" fill="none" stroke="#d8a8a8" stroke-width="0.66"/><polyline points="92.38,61.72 92.76,61.68 93.52,61.61 94.67,61.52 95.43,61.44 96.16,61.36 96.75,61.29 97.31,61.19 97.82,61.08 98.39,60.92 98.88,60.73 99.29,60.5 99.58,60.27 99.8,60.01 99.94,59.71 100.01,59.38 100.01,59.05 99.95,58.69 99.83,58.3 99.65,57.89 99.39,57.52 99.09,57.12 98.79,56.63 98.44,56.12 98.06,55.59 97.65,55.08 97.14,54.4 96.62,53.69 96.1,52.98 95.61,52.24 95.17,51.51 94.75,50.82 94.38,50.17 94.11,49.47 93.94,48.81 93.79,48.27 93.73,47.79 93.81,47.26 94,46.8 94.21,46.49 94.51,46.25 94.96,45.97 95.49,45.77 96.03,45.71 96.64,45.71 97.35,45.68 98.11,45.73 98.87,45.86 99.65,46.02 100.47,46.18 101.14,46.34 101.79,46.51 102.43,46.68 103.07,46.85 103.67,47.02 104.4,47.24 105.11,47.4 105.79,47.53 106.36,47.67 106.89,47.79 107.41,47.8 107.89,47.75 108.24,47.72 108.53,47.65 108.85,47.46 109.12,47.2 109.26,46.97 109.36,46.68 109.51,46.28 109.61,45.84 109.61,45.4 109.61,44.93 109.64,44.38 109.65,43.8 109.6,43.22 109.56,42.63 109.56,41.99 109.55,41.35 109.52,40.71 109.53,40.08 109.55,39.44 109.58,38.82 109.64,38.2 109.74,37.61 109.83,37.05 109.94,36.52 110.11,36 110.31,35.52 110.5,35.1 110.7,34.72 110.98,34.35 111.3,34.02 111.57,33.77 111.87,33.56 112.26,33.36 112.66,33.21 113.02,33.14 113.4,33.1 113.86,33.08 114.33,33.1 114.76,33.19 115.2,33.31 115.7,33.45 116.21,33.63 116.67,33.85 117.15,34.09 117.66,34.35 118.16,34.64 118.64,34.95 119.13,35.27 119.61,35.59 120.08,35.93 120.56,36.27 121.03,36.59 121.46,36.92 121.88,37.23 122.32,37.52 122.76,37.77 123.19,37.99 123.56,38.15 123.91,38.27 124.26,38.37 124.6,38.42 124.97,38.43 125.33,38.38 125.67,38.27 126.07,38.05 126.44,37.73 126.73,37.41 126.99,37.02 127.36,36.34 127.58,35.81 127.69,35.53" fill="none" stroke="#cc8c8c" stroke-width="1.02"/></g>
<g opacity="0.8"><path d="M119.03,11.69L120.54,10.62 M118.44,13.77L122.79,10.66 M118.37,15.63L124.78,11.05 M119.06,16.74L125.83,11.9 M120.68,17.34L126.1,13.47 M123.05,17.41L125.57,15.61 M125.77,17.23L124.55,18.1 M128.35,17.15L123.54,20.59 M130.32,17.5L123.02,22.72 M131.34,18.54L123.39,24.22 M131.34,20.3L124.77,24.96 M130.53,22.58L126.98,25.07 M129.37,25.02L129.62,24.85 M128.33,27.32L132.22,24.65 M127.8,29.18L134.36,24.75 M128.02,30.47L135.74,25.33 M129.29,31.3L136.3,26.63 M131.2,31.51L135.95,28.35" stroke="#eac9c9" stroke-width="0.3" fill="none"/><polyline points="120.54,10.62 120.77,10.61 121.24,10.61 121.92,10.62 122.79,10.66 123.3,10.7 123.78,10.77 124.31,10.89 124.78,11.05 125.1,11.21 125.38,11.4 125.61,11.62 125.83,11.9 125.98,12.23 126.08,12.6 126.12,13.02 126.1,13.47 126.04,13.96 125.92,14.48 125.76,15.03 125.57,15.61 125.34,16.21 125.09,16.83 124.83,17.46 124.55,18.1 124.28,18.73 124.01,19.36 123.76,19.98 123.54,20.59 123.35,21.16 123.19,21.72 123.08,22.23 123.02,22.72 123.02,23.16 123.08,23.56 123.2,23.91 123.39,24.22 123.64,24.47 123.96,24.68 124.33,24.83 124.77,24.96 125.26,25.03 125.79,25.07 126.37,25.08 126.98,25.07 127.61,25.03 128.27,24.98 128.95,24.92 129.62,24.85 130.29,24.79 130.96,24.73 131.6,24.68 132.22,24.65 132.81,24.64 133.37,24.65 133.88,24.68 134.36,24.75 134.78,24.84 135.15,24.97 135.47,25.13 135.74,25.33 135.95,25.55 136.11,25.8 136.25,26.18 136.3,26.63 136.27,27.05 136.19,27.51 135.95,28.35 135.67,29.07 135.43,29.64 135.25,30.03 135.16,30.22" fill="none" stroke="#e9c5c5" stroke-width="0.55"/><polyline points="119.03,11.69 118.96,11.91 118.82,12.34 118.63,12.97 118.44,13.77 118.35,14.24 118.31,14.69 118.31,15.18 118.37,15.63 118.47,15.95 118.61,16.23 118.79,16.49 119.06,16.74 119.38,16.95 119.76,17.12 120.2,17.25 120.68,17.34 121.22,17.4 121.79,17.43 122.41,17.43 123.05,17.41 123.71,17.38 124.39,17.33 125.08,17.28 125.77,17.23 126.45,17.19 127.11,17.15 127.75,17.14 128.35,17.15 128.92,17.18 129.44,17.25 129.91,17.36 130.32,17.5 130.67,17.69 130.96,17.93 131.18,18.21 131.34,18.54 131.43,18.91 131.46,19.34 131.43,19.81 131.34,20.3 131.2,20.84 131.01,21.39 130.79,21.97 130.53,22.58 130.26,23.18 129.97,23.8 129.67,24.42 129.37,25.02 129.08,25.62 128.81,26.21 128.55,26.77 128.33,27.32 128.13,27.83 127.98,28.31 127.87,28.77 127.8,29.18 127.78,29.56 127.81,29.91 127.89,30.21 128.02,30.47 128.2,30.71 128.44,30.92 128.82,31.13 129.29,31.3 129.75,31.4 130.26,31.47 131.2,31.51 132.02,31.5 132.67,31.48 133.11,31.46 133.33,31.45" fill="none" stroke="#e2b2b2" stroke-width="0.85"/></g>
<g opacity="1.0"><path d="M139.9,9.22L141.63,8.87 M138.64,10.77L143.52,9.8 M138.17,12L144.63,10.71 M138.54,13.28L145.05,11.98 M139.52,14.17L144.67,13.14 M141.24,15.07L143.56,14.75 M143.2,16.15L141.94,16.24 M144.94,17.47L140.25,17.52 M146.01,18.97L138.96,18.63 M146.1,20.51L138.44,19.7 M145.45,21.55L138.66,20.63 M144.21,22.47L139.4,21.69 M142.52,23.28L140.58,22.86 M140.62,23.89L141.99,24.26 M138.74,24.49L143.38,25.75 M137.02,25.31L144.64,27.39 M136.2,26.19L145.13,28.63 M136.19,27.48L144.79,29.83 M137.15,29.04L143.43,30.75" stroke="#cd9292" stroke-width="0.36" fill="none"/><polyline points="141.63,8.87 141.89,8.99 142.39,9.21 143.1,9.56 143.52,9.8 143.9,10.04 144.31,10.37 144.63,10.71 144.82,11 144.96,11.3 145.03,11.61 145.05,11.98 144.98,12.37 144.85,12.78 144.67,13.14 144.45,13.51 144.19,13.89 143.9,14.33 143.56,14.75 143.18,15.13 142.78,15.5 142.37,15.88 141.94,16.24 141.5,16.59 141.08,16.95 140.66,17.25 140.25,17.52 139.87,17.85 139.53,18.18 139.23,18.41 138.96,18.63 138.74,18.95 138.58,19.27 138.49,19.48 138.44,19.7 138.44,20.04 138.52,20.38 138.66,20.63 138.86,20.91 139.1,21.29 139.4,21.69 139.77,22.03 140.16,22.41 140.58,22.86 141.04,23.31 141.51,23.77 141.99,24.26 142.46,24.76 142.93,25.26 143.38,25.75 143.74,26.17 144.08,26.59 144.38,26.99 144.64,27.39 144.87,27.82 145.04,28.24 145.13,28.63 145.13,29.09 144.99,29.52 144.79,29.83 144.5,30.12 143.92,30.51 143.43,30.75 143.16,30.86" fill="none" stroke="#c98a8a" stroke-width="0.66"/><polyline points="139.9,9.22 139.71,9.42 139.36,9.82 138.9,10.4 138.64,10.77 138.44,11.14 138.26,11.58 138.17,12 138.17,12.33 138.22,12.64 138.33,12.95 138.54,13.28 138.82,13.61 139.17,13.92 139.52,14.17 139.91,14.42 140.33,14.66 140.78,14.85 141.24,15.07 141.73,15.32 142.22,15.58 142.72,15.85 143.2,16.15 143.67,16.43 144.12,16.72 144.55,17.08 144.94,17.47 145.28,17.79 145.58,18.11 145.83,18.53 146.01,18.97 146.13,19.3 146.2,19.64 146.19,20.08 146.1,20.51 145.95,20.83 145.74,21.15 145.45,21.55 145.08,21.92 144.67,22.2 144.21,22.47 143.7,22.78 143.12,23.06 142.52,23.28 141.9,23.5 141.27,23.71 140.62,23.89 139.97,24.08 139.34,24.28 138.74,24.49 138.25,24.67 137.79,24.87 137.38,25.08 137.02,25.31 136.67,25.58 136.4,25.88 136.2,26.19 136.08,26.62 136.09,27.09 136.19,27.48 136.37,27.9 136.79,28.57 137.15,29.04 137.36,29.28" fill="none" stroke="#b86464" stroke-width="1.02"/></g>
<g opacity="1.0"><path d="M151.54,10.84L149.87,11.34 M149.83,12.71L152.35,11.96 M148.72,14.24L154.26,12.58 M148.23,15.81L155.8,13.53 M148.62,16.82L156.26,14.53 M150.02,17.88L155.88,15.88 M152.11,18.6L154.81,17.56 M154.4,19.08L153.49,19.47 M156.41,19.55L152.41,21.44 M157.75,20.23L152.01,23.22 M158.23,21.34L152.54,24.57 M157.93,22.95L153.98,25.39 M157.37,24.46L155.51,25.65 M156.72,26.09L157.27,25.72 M156.11,27.85L159.19,25.8 M155.89,29.29L160.74,26.06 M156.29,30.45L161.86,26.73 M157.44,31.1L162.21,27.91" stroke="#cd9292" stroke-width="0.36" fill="none"/><polyline points="149.87,11.34 150.18,11.42 150.8,11.57 151.74,11.8 152.35,11.96 152.94,12.12 153.63,12.34 154.26,12.58 154.72,12.78 155.12,13 155.47,13.24 155.8,13.53 156.04,13.86 156.2,14.21 156.26,14.53 156.26,14.87 156.2,15.23 156.06,15.54 155.88,15.88 155.67,16.29 155.42,16.72 155.12,17.13 154.81,17.56 154.49,18.03 154.15,18.51 153.81,18.98 153.49,19.47 153.17,19.96 152.88,20.45 152.62,20.95 152.41,21.44 152.23,21.89 152.09,22.32 152.02,22.78 152.01,23.22 152.04,23.57 152.12,23.9 152.29,24.26 152.54,24.57 152.8,24.8 153.12,25 153.52,25.22 153.98,25.39 154.45,25.49 154.96,25.57 155.51,25.65 156.1,25.7 156.68,25.71 157.27,25.72 157.86,25.74 158.54,25.76 159.19,25.8 159.81,25.86 160.29,25.94 160.74,26.06 161.13,26.2 161.54,26.44 161.86,26.73 162.04,27.02 162.16,27.34 162.21,27.91 162.18,28.35 162.14,28.58" fill="none" stroke="#c98a8a" stroke-width="0.66"/><polyline points="151.54,10.84 151.31,11.08 150.87,11.55 150.23,12.25 149.83,12.71 149.46,13.16 149.06,13.71 148.72,14.24 148.5,14.64 148.35,15.03 148.26,15.4 148.23,15.81 148.28,16.19 148.43,16.54 148.62,16.82 148.88,17.09 149.19,17.33 149.58,17.62 150.02,17.88 150.49,18.07 150.99,18.24 151.54,18.43 152.11,18.6 152.68,18.72 153.26,18.85 153.83,18.98 154.4,19.08 154.95,19.2 155.48,19.33 155.96,19.44 156.41,19.55 156.83,19.71 157.2,19.9 157.5,20.06 157.75,20.23 157.97,20.49 158.13,20.78 158.2,21.04 158.23,21.34 158.24,21.72 158.19,22.13 158.08,22.52 157.93,22.95 157.77,23.44 157.59,23.95 157.37,24.46 157.15,24.99 156.93,25.54 156.72,26.09 156.51,26.64 156.29,27.26 156.11,27.85 155.98,28.42 155.91,28.87 155.89,29.29 155.93,29.67 156.06,30.09 156.29,30.45 156.54,30.68 156.85,30.88 157.44,31.1 157.9,31.19 158.16,31.23" fill="none" stroke="#b86464" stroke-width="1.02"/></g>
<g opacity="1.0"><path d="M134.19,37.63L133.54,38.93 M134.43,39.49L135.17,38.01 M134.72,41.45L136.94,37 M135.14,43.14L138.62,36.19 M135.9,44.46L140.24,35.76 M136.78,44.94L141.27,35.96 M138.32,44.99L141.69,36.55 M139.83,44.31L142.11,37.77 M141.9,42.6L142.54,40.05 M143.61,40.36L143.25,42.75 M144.82,38.17L144.46,45.32 M145.6,36.63L146.13,47.16 M146.26,36.17L148,47.74 M147.2,36.97L149.66,46.81 M149,38.75L150.42,44.57 M150.9,41.28L150.96,41.7 M152.18,43.93L152.08,38.78 M152.92,45.92L153.79,36.6 M153.49,46.71L155.74,35.8 M154.41,46.14L157.44,36.65 M155.64,45.01L158.18,38.26 M157.18,43.48L158.62,40.53 M159.17,42.01L158.58,43 M161.13,40.86L158.42,45.38 M162.98,40.27L158.63,47.52 M164.06,40.59L159.27,48.57 M164.75,41.92L160.6,48.83 M164.97,44.03L162.45,48.22" stroke="#bc7d7d" stroke-width="0.36" fill="none"/><polyline points="133.54,38.93 133.8,38.78 134.34,38.48 135.17,38.01 135.71,37.7 136.26,37.38 136.94,37 137.6,36.65 138.12,36.4 138.62,36.19 139.1,36.01 139.5,35.89 139.88,35.8 140.24,35.76 140.58,35.77 140.94,35.83 141.27,35.96 141.56,36.15 141.64,36.33 141.69,36.55 141.91,36.91 142.1,37.34 142.11,37.77 142.14,38.24 142.31,38.8 142.47,39.42 142.54,40.05 142.65,40.68 142.84,41.36 143.03,42.05 143.25,42.75 143.54,43.42 143.79,44.07 144.04,44.71 144.46,45.32 144.94,45.86 145.25,46.35 145.56,46.79 146.13,47.16 146.73,47.41 147.06,47.61 147.39,47.73 148,47.74 148.59,47.61 148.88,47.45 149.15,47.2 149.66,46.81 150.1,46.3 150.28,45.78 150.45,45.18 150.42,44.57 150.44,43.93 150.63,43.21 150.81,42.46 150.96,41.7 151.18,40.95 151.44,40.21 151.7,39.48 152.08,38.78 152.54,38.15 152.88,37.57 153.21,37.04 153.79,36.6 154.41,36.29 154.77,36.02 155.11,35.84 155.74,35.8 156.35,35.91 156.65,36.04 156.93,36.26 157.44,36.65 157.88,37.16 158.04,37.67 158.18,38.26 158.44,38.96 158.61,39.76 158.62,40.53 158.62,41.32 158.64,42.14 158.58,43 158.5,43.83 158.45,44.62 158.42,45.38 158.43,45.99 158.46,46.56 158.52,47.07 158.63,47.52 158.79,47.96 159,48.31 159.27,48.57 159.53,48.73 159.83,48.82 160.16,48.86 160.6,48.83 161.09,48.73 161.88,48.46 162.45,48.22 162.75,48.08" fill="none" stroke="#b77474" stroke-width="0.66"/><polyline points="134.19,37.63 134.23,37.93 134.31,38.55 134.43,39.49 134.51,40.11 134.6,40.71 134.72,41.45 134.86,42.14 134.99,42.66 135.14,43.14 135.32,43.57 135.49,43.91 135.68,44.21 135.9,44.46 136.14,44.66 136.44,44.84 136.78,44.94 137.15,44.98 137.72,45.04 138.32,44.99 138.75,44.81 139.21,44.56 139.83,44.31 140.42,43.97 140.89,43.54 141.37,43.08 141.9,42.6 142.38,42.06 142.81,41.5 143.25,40.93 143.61,40.36 143.91,39.76 144.28,39.2 144.65,38.67 144.82,38.17 144.94,37.69 145.25,37.27 145.56,36.91 145.6,36.63 145.62,36.4 145.92,36.23 146.23,36.14 146.26,36.17 146.32,36.27 146.67,36.41 147.04,36.62 147.2,36.97 147.42,37.38 147.89,37.79 148.37,38.26 149,38.75 149.58,39.33 150.02,39.96 150.47,40.62 150.9,41.28 151.26,41.98 151.62,42.66 151.98,43.31 152.18,43.93 152.31,44.53 152.6,45.07 152.89,45.54 152.92,45.92 152.91,46.24 153.19,46.51 153.49,46.68 153.49,46.71 153.53,46.67 153.88,46.61 154.25,46.45 154.41,46.14 154.64,45.78 155.13,45.43 155.64,45.01 156.05,44.5 156.56,43.98 157.18,43.48 157.82,42.97 158.46,42.47 159.17,42.01 159.85,41.58 160.51,41.19 161.13,40.86 161.65,40.62 162.13,40.44 162.57,40.32 162.98,40.27 163.39,40.28 163.75,40.39 164.06,40.59 164.28,40.82 164.46,41.1 164.61,41.44 164.75,41.92 164.85,42.46 164.94,43.37 164.97,44.03 164.97,44.38" fill="none" stroke="#a04646" stroke-width="1.02"/></g>
<g opacity="1.0"><path d="M136.53,51.94L135.22,54.56 M136.78,53.78L136.83,53.69 M137.09,55.7L138.57,52.73 M137.54,57.34L140.22,51.99 M138.31,58.63L141.82,51.62 M139.18,59.14L142.84,51.82 M140.61,59.27L143.37,52.37 M142.02,58.75L143.88,53.46 M143.95,57.37L144.44,55.43 M145.58,55.54L145.25,57.74 M146.79,53.75L146.48,59.9 M147.65,52.54L148.09,61.37 M148.43,52.29L149.84,61.7 M149.49,53.14L151.37,60.66 M151.28,54.88L152.13,58.42 M152.99,57.25L152.81,55.68 M154.03,59.63L154.12,53.05 M154.54,61.31L155.98,51.27 M154.96,61.82L158,50.88 M155.86,61.07L159.59,52.09 M157.66,59.37L160.29,54.67 M159.65,57.88L160.1,57.18 M161.98,56.6L159.5,59.78 M163.97,55.7L159.01,62.08 M165.83,55.42L158.98,64.23 M166.72,56.16L159.69,65.2 M166.92,57.79L161.12,65.25 M166.65,59.88L162.94,64.65" stroke="#bc7d7d" stroke-width="0.36" fill="none"/><polyline points="135.22,54.56 135.48,54.42 136.02,54.14 136.83,53.69 137.37,53.38 137.91,53.09 138.57,52.73 139.22,52.41 139.73,52.18 140.22,51.99 140.69,51.83 141.08,51.72 141.46,51.65 141.82,51.62 142.15,51.63 142.51,51.7 142.84,51.82 143.14,52 143.27,52.17 143.37,52.37 143.6,52.69 143.81,53.07 143.88,53.46 143.95,53.86 144.14,54.35 144.33,54.88 144.44,55.43 144.59,55.97 144.8,56.55 145.01,57.14 145.25,57.74 145.55,58.3 145.81,58.85 146.08,59.38 146.48,59.9 146.94,60.34 147.25,60.74 147.56,61.09 148.09,61.37 148.64,61.55 148.97,61.69 149.29,61.75 149.84,61.7 150.37,61.54 150.66,61.34 150.93,61.06 151.37,60.66 151.76,60.15 151.94,59.62 152.1,59.03 152.13,58.42 152.21,57.79 152.4,57.11 152.6,56.4 152.81,55.68 153.11,55 153.38,54.33 153.65,53.68 154.12,53.05 154.65,52.52 154.99,52.03 155.33,51.6 155.98,51.27 156.65,51.07 157,50.9 157.33,50.8 158,50.88 158.62,51.11 158.88,51.31 159.11,51.6 159.59,52.09 159.98,52.7 160.07,53.27 160.11,53.9 160.29,54.67 160.34,55.53 160.23,56.34 160.1,57.18 159.96,58.03 159.73,58.91 159.5,59.78 159.3,60.62 159.13,61.42 159.01,62.08 158.94,62.69 158.9,63.24 158.91,63.74 158.98,64.23 159.12,64.63 159.33,64.94 159.69,65.2 160.16,65.32 160.61,65.33 161.12,65.25 161.98,65.01 162.61,64.78 162.94,64.65" fill="none" stroke="#b77474" stroke-width="0.66"/><polyline points="136.53,51.94 136.57,52.25 136.66,52.86 136.78,53.78 136.87,54.39 136.96,54.98 137.09,55.7 137.24,56.37 137.38,56.87 137.54,57.34 137.72,57.76 137.9,58.09 138.1,58.38 138.31,58.63 138.55,58.84 138.85,59.02 139.18,59.14 139.54,59.21 140.06,59.28 140.61,59.27 141.02,59.13 141.46,58.95 142.02,58.75 142.56,58.48 143.01,58.14 143.46,57.76 143.95,57.37 144.4,56.93 144.82,56.47 145.24,56.01 145.58,55.54 145.88,55.05 146.24,54.59 146.6,54.16 146.79,53.75 146.94,53.37 147.25,53.03 147.56,52.75 147.65,52.54 147.72,52.37 148.03,52.26 148.34,52.22 148.43,52.29 148.54,52.41 148.9,52.57 149.27,52.8 149.49,53.14 149.77,53.53 150.23,53.93 150.71,54.39 151.28,54.88 151.79,55.43 152.21,56.02 152.64,56.63 152.99,57.25 153.26,57.89 153.59,58.5 153.93,59.08 154.03,59.63 154.06,60.14 154.33,60.61 154.6,61.01 154.54,61.31 154.45,61.54 154.72,61.74 155,61.87 154.96,61.82 154.95,61.7 155.31,61.6 155.7,61.42 155.86,61.07 156.11,60.67 156.64,60.31 157.2,59.9 157.66,59.37 158.24,58.86 158.94,58.38 159.65,57.88 160.39,57.41 161.21,57 161.98,56.6 162.71,56.23 163.41,55.92 163.97,55.7 164.5,55.53 164.98,55.43 165.4,55.39 165.83,55.42 166.18,55.55 166.46,55.77 166.72,56.16 166.87,56.69 166.92,57.21 166.92,57.79 166.82,58.78 166.71,59.51 166.65,59.88" fill="none" stroke="#a04646" stroke-width="1.02"/></g>
<g opacity="1.0"><path d="M138.72,65.28L140.77,63.23 M138.14,67.36L142.95,62.55 M138,69.12L144.89,62.23 M138.54,70.21L146.2,62.55 M139.99,70.57L146.82,63.74 M141.66,70.34L146.74,65.26 M143.72,69.77L146.28,67.22 M145.87,69.1L145.63,69.34 M147.89,68.54L145.01,71.41 M149.62,68.24L144.61,73.25 M150.94,68.34L144.56,74.72 M152.01,69.14L145.13,76.02 M152.34,70.64L146.42,76.56 M152.14,72.65L148.28,76.51 M151.67,74.89L150.46,76.1 M151.19,77.19L152.78,75.61 M151,78.84L154.5,75.34 M151.1,80.16L155.94,75.32 M151.54,81.14L157.06,75.63" stroke="#bc7d7d" stroke-width="0.36" fill="none"/><polyline points="140.77,63.23 141.15,63.1 141.89,62.86 142.95,62.55 143.6,62.4 144.21,62.29 144.89,62.23 145.48,62.27 145.87,62.38 146.2,62.55 146.46,62.79 146.63,63.06 146.75,63.38 146.82,63.74 146.84,64.16 146.82,64.68 146.74,65.26 146.62,65.88 146.46,66.54 146.28,67.22 146.07,67.91 145.85,68.63 145.63,69.34 145.41,70.04 145.2,70.73 145.01,71.41 144.85,72.06 144.71,72.67 144.61,73.25 144.55,73.78 144.53,74.28 144.56,74.72 144.63,75.12 144.75,75.47 144.91,75.77 145.13,76.02 145.39,76.22 145.69,76.38 146.04,76.49 146.42,76.56 146.84,76.6 147.29,76.6 147.78,76.56 148.28,76.51 148.81,76.43 149.35,76.33 149.9,76.22 150.46,76.1 151.02,75.98 151.58,75.86 152.14,75.74 152.78,75.61 153.4,75.49 154.01,75.4 154.5,75.34 154.98,75.31 155.42,75.3 155.94,75.32 156.41,75.4 156.75,75.5 157.06,75.63 157.45,75.89 157.67,76.11 157.77,76.23" fill="none" stroke="#b77474" stroke-width="0.66"/><polyline points="138.72,65.28 138.6,65.65 138.39,66.36 138.14,67.36 138.03,67.97 137.98,68.52 138,69.12 138.12,69.63 138.3,69.95 138.54,70.21 138.86,70.39 139.19,70.5 139.56,70.56 139.99,70.57 140.46,70.54 141.04,70.46 141.66,70.34 142.33,70.17 143.02,69.98 143.72,69.77 144.43,69.55 145.15,69.32 145.87,69.1 146.56,68.89 147.24,68.7 147.89,68.54 148.51,68.4 149.08,68.3 149.62,68.24 150.11,68.23 150.55,68.26 150.94,68.34 151.28,68.47 151.58,68.64 151.82,68.87 152.01,69.14 152.16,69.45 152.26,69.81 152.32,70.21 152.34,70.64 152.33,71.1 152.29,71.6 152.23,72.12 152.14,72.65 152.04,73.2 151.92,73.76 151.79,74.33 151.67,74.89 151.54,75.46 151.42,76.02 151.31,76.57 151.19,77.19 151.1,77.8 151.03,78.37 151,78.84 151,79.28 151.03,79.69 151.1,80.16 151.23,80.58 151.37,80.88 151.54,81.14 151.87,81.47 152.14,81.64 152.28,81.72" fill="none" stroke="#a04646" stroke-width="1.02"/></g>
<g opacity="1.0"><path d="M155.83,67.91L157.68,66.47 M155.37,69.62L159.54,66.38 M155.3,71.14L161.19,66.56 M155.77,72.25L162.33,67.14 M156.89,73.01L162.99,68.26 M158.16,73.32L163.11,69.47 M159.73,73.45L162.95,70.95 M161.44,73.48L162.61,72.57 M163.16,73.49L162.2,74.24 M164.78,73.59L161.84,75.87 M166.19,73.85L161.65,77.38 M167.31,74.33L161.71,78.69 M168.1,75.07L162.09,79.75 M168.52,76.09L162.83,80.52 M168.59,77.39L163.93,81.02 M168.36,78.93L165.37,81.25 M167.91,80.63L167.07,81.29 M167.37,82.39L168.9,81.2 M166.89,84.08L170.72,81.12 M166.62,85.59L172.37,81.17 M166.7,86.81L173.7,81.44 M167.2,87.68L174.6,82.03 M168.62,88.26L175.04,83.37 M170.78,88.25L174.65,85.32 M173.4,87.87L173.66,87.68 M176.06,87.45L172.47,90.15 M178.33,87.37L171.52,92.37 M179.81,87.88L171.23,94.05 M180.29,89.11L171.88,95.02 M179.77,91.01L173.53,95.3 M178.53,93.34L175.97,95.07 M177.29,95.37L178.3,94.71 M175.98,97.62L181.02,94.39 M175.32,99.38L183.17,94.47 M175.61,100.53L184.36,95.06 M176.82,101.11L184.62,96.23 M178.89,101.21L184.02,98 M181.08,101.05L183.01,99.84" stroke="#bc7d7d" stroke-width="0.37" fill="none"/><polyline points="157.68,66.47 158,66.44 158.64,66.4 159.54,66.38 160.1,66.4 160.61,66.45 161.19,66.56 161.69,66.74 162.03,66.92 162.33,67.14 162.57,67.4 162.75,67.66 162.89,67.95 162.99,68.26 163.06,68.6 163.11,69.02 163.11,69.47 163.09,69.94 163.03,70.43 162.95,70.95 162.85,71.48 162.73,72.02 162.61,72.57 162.47,73.13 162.33,73.69 162.2,74.24 162.07,74.8 161.95,75.34 161.84,75.87 161.75,76.39 161.69,76.9 161.65,77.38 161.64,77.84 161.65,78.28 161.71,78.69 161.8,79.07 161.92,79.42 162.09,79.75 162.29,80.04 162.54,80.3 162.83,80.52 163.15,80.72 163.52,80.89 163.93,81.02 164.38,81.12 164.86,81.2 165.37,81.25 165.91,81.28 166.48,81.29 167.07,81.29 167.68,81.26 168.29,81.24 168.9,81.2 169.52,81.17 170.13,81.14 170.72,81.12 171.29,81.12 171.84,81.13 172.37,81.17 172.85,81.23 173.3,81.32 173.7,81.44 174.05,81.6 174.35,81.79 174.6,82.03 174.79,82.3 174.93,82.62 175.02,82.98 175.04,83.37 175.02,83.8 174.94,84.28 174.82,84.78 174.65,85.32 174.44,85.88 174.21,86.47 173.94,87.07 173.66,87.68 173.36,88.3 173.06,88.93 172.76,89.54 172.47,90.15 172.2,90.74 171.94,91.31 171.71,91.84 171.52,92.37 171.38,92.85 171.27,93.29 171.21,93.68 171.23,94.05 171.31,94.37 171.43,94.63 171.61,94.84 171.88,95.02 172.21,95.16 172.59,95.24 173.03,95.28 173.53,95.3 174.08,95.29 174.68,95.23 175.3,95.15 175.97,95.07 176.65,94.97 177.36,94.85 178.3,94.71 179.24,94.57 180.15,94.46 181.02,94.39 181.81,94.35 182.54,94.38 183.17,94.47 183.69,94.61 184.1,94.82 184.36,95.06 184.54,95.36 184.63,95.71 184.62,96.23 184.49,96.84 184.29,97.4 184.02,98 183.48,99.03 183.01,99.84 182.69,100.4 182.52,100.67" fill="none" stroke="#b77474" stroke-width="0.68"/><polyline points="155.83,67.91 155.73,68.21 155.56,68.8 155.37,69.62 155.3,70.13 155.27,70.6 155.3,71.14 155.42,71.61 155.57,71.95 155.77,72.25 156.02,72.5 156.28,72.7 156.57,72.87 156.89,73.01 157.25,73.13 157.69,73.24 158.16,73.32 158.66,73.38 159.19,73.42 159.73,73.45 160.29,73.47 160.86,73.47 161.44,73.48 162.02,73.48 162.59,73.48 163.16,73.49 163.72,73.51 164.26,73.54 164.78,73.59 165.27,73.65 165.75,73.74 166.19,73.85 166.6,73.98 166.97,74.14 167.31,74.33 167.61,74.54 167.88,74.79 168.1,75.07 168.28,75.38 168.42,75.72 168.52,76.09 168.58,76.5 168.61,76.93 168.59,77.39 168.55,77.88 168.47,78.39 168.36,78.93 168.23,79.48 168.08,80.05 167.91,80.63 167.73,81.22 167.55,81.8 167.37,82.39 167.2,82.96 167.04,83.53 166.89,84.08 166.77,84.6 166.68,85.11 166.62,85.59 166.6,86.03 166.63,86.44 166.7,86.81 166.81,87.14 166.98,87.43 167.2,87.68 167.48,87.89 167.81,88.06 168.19,88.18 168.62,88.26 169.1,88.31 169.62,88.32 170.18,88.3 170.78,88.25 171.41,88.18 172.06,88.09 172.73,87.98 173.4,87.87 174.08,87.76 174.76,87.64 175.42,87.54 176.06,87.45 176.68,87.38 177.27,87.35 177.83,87.35 178.33,87.37 178.78,87.42 179.19,87.54 179.54,87.7 179.81,87.88 180.02,88.11 180.18,88.41 180.27,88.75 180.29,89.11 180.24,89.52 180.14,89.99 179.99,90.49 179.77,91.01 179.51,91.56 179.22,92.14 178.89,92.74 178.53,93.34 178.16,93.95 177.79,94.57 177.29,95.37 176.81,96.16 176.37,96.91 175.98,97.62 175.68,98.28 175.45,98.86 175.32,99.38 175.32,99.85 175.42,100.24 175.61,100.53 175.88,100.77 176.24,100.95 176.82,101.11 177.52,101.19 178.17,101.22 178.89,101.21 180.12,101.13 181.08,101.05 181.73,101 182.05,100.97" fill="none" stroke="#a04646" stroke-width="1.05"/></g>
<polyline points="145,30 145.05,30.06 145.14,30.19 145.28,30.38 145.47,30.62 145.7,30.94 145.98,31.31 146.31,31.75 146.69,32.25 146.98,32.75 147.2,33.25 147.34,33.75 147.41,34.25 147.39,34.75 147.3,35.25 147.12,35.75 146.88,36.25 146.66,36.69 146.47,37.06 146.31,37.38 146.19,37.62 146.09,37.81 146.03,37.94 146,38" fill="none" stroke="#a04646" stroke-width="0.6" stroke-linejoin="round" stroke-linecap="round" opacity="1.0"/>
<polyline points="160,30 160.09,30.09 160.28,30.28 160.56,30.56 160.94,30.94 161.41,31.41 161.97,31.97 162.62,32.62 163.38,33.38 164,34.16 164.5,34.97 164.88,35.81 165.12,36.69 165.25,37.59 165.25,38.53 165.12,39.5 164.88,40.5 164.66,41.38 164.47,42.12 164.31,42.75 164.19,43.25 164.09,43.62 164.03,43.88 164,44" fill="none" stroke="#a04646" stroke-width="0.6" stroke-linejoin="round" stroke-linecap="round" opacity="1.0"/>
<polyline points="131,52 131.03,52.12 131.09,52.38 131.19,52.75 131.31,53.25 131.47,53.88 131.66,54.62 131.88,55.5 132.12,56.5 132.42,57.44 132.77,58.31 133.16,59.12 133.59,59.88 134.08,60.56 134.61,61.19 135.19,61.75 135.81,62.25 136.36,62.69 136.83,63.06 137.22,63.38 137.53,63.62 137.77,63.81 137.92,63.94 138,64" fill="none" stroke="#b86464" stroke-width="0.6" stroke-linejoin="round" stroke-linecap="round" opacity="1.0"/>
<rect x="126" y="38" width="2.2" height="1.2" fill="#35d2dc" transform="rotate(-30 126 38)"/>
<rect x="129" y="36.5" width="2.2" height="1.2" fill="#35d2dc" transform="rotate(-30 129 36.5)"/>
<rect x="127.5" y="41" width="2.2" height="1.2" fill="#35d2dc" transform="rotate(-30 127.5 41)"/>
<rect x="125.5" y="44" width="2.2" height="1.2" fill="#35d2dc" transform="rotate(-30 125.5 44)"/>
<rect x="130" y="43" width="2.2" height="1.2" fill="#c030c0" transform="rotate(-30 130 43)"/>
<rect x="133" y="38" width="2.2" height="1.2" fill="#c030c0" transform="rotate(-30 133 38)"/>
<rect x="128" y="47" width="2.2" height="1.2" fill="#c030c0" transform="rotate(-30 128 47)"/>
<rect x="131" y="49.5" width="2.2" height="1.2" fill="#c030c0" transform="rotate(-30 131 49.5)"/>
<rect x="124.5" y="47.5" width="2.2" height="1.2" fill="#35d2dc" transform="rotate(-30 124.5 47.5)"/>
<circle cx="134.8" cy="34.7" r="1.6" fill="#c06060"/>
<g opacity="1.0"><path d="M197.41,41.81L198.85,44.71 M199.3,43.25L198.86,42.37 M201.3,44.67L198.87,39.81 M202.92,45.34L199.18,37.87 M203.29,45.18L200.93,36.79 M203.43,43.82L203.04,37.47 M204.26,41.66L204.59,39.55 M206.1,39.62L205.1,42.28 M208.45,38.59L204.97,44.61 M209.65,38.79L205.83,46.13 M209.73,40.09L207.91,46.1 M210.08,42.22L209.88,44.56 M211.3,44.41L211.02,42.33 M213.26,45.68L211.35,40.28 M214.98,45.53L211.78,39.11 M215.63,44.48L212.89,38.99 M215.95,42.3L214.73,39.87" stroke="#cd9191" stroke-width="0.3" fill="none"/><polyline points="198.85,44.71 198.86,44.49 198.87,44.03 198.87,43.33 198.86,42.37 198.84,41.17 198.84,40.47 198.87,39.81 198.92,39.1 199.02,38.47 199.18,37.87 199.66,37.31 200.26,36.96 200.93,36.79 201.64,36.83 202.36,37.05 203.04,37.47 203.65,38.03 204.18,38.76 204.59,39.55 204.87,40.45 205.04,41.35 205.1,42.28 205.09,43.12 205.01,43.93 204.97,44.61 204.85,44.95 204.96,45.34 205.33,45.78 205.83,46.13 206.47,46.33 207.18,46.3 207.91,46.1 208.63,45.72 209.29,45.21 209.88,44.56 210.37,43.86 210.75,43.08 211.02,42.33 211.19,41.57 211.3,40.9 211.35,40.28 211.4,39.81 211.46,39.43 211.78,39.11 212.11,38.97 212.51,38.94 212.89,38.99 213.3,39.13 214.07,39.48 214.73,39.87 215.24,40.19 215.59,40.42 215.77,40.53" fill="none" stroke="#c98989" stroke-width="0.55"/><polyline points="197.41,41.81 197.59,41.95 197.97,42.23 198.54,42.67 199.3,43.25 200.24,43.96 200.78,44.34 201.3,44.67 201.87,44.99 202.39,45.21 202.92,45.34 203.13,45.42 203.24,45.38 203.29,45.18 203.31,44.86 203.35,44.38 203.43,43.82 203.6,43.14 203.87,42.43 204.26,41.66 204.76,40.93 205.38,40.22 206.1,39.62 206.88,39.12 207.69,38.78 208.45,38.59 209.05,38.66 209.4,38.68 209.47,38.64 209.65,38.79 209.71,39.1 209.73,39.51 209.73,40.09 209.77,40.72 209.88,41.47 210.08,42.22 210.38,43 210.79,43.73 211.3,44.41 211.9,44.96 212.57,45.41 213.26,45.68 213.95,45.79 214.6,45.69 214.98,45.53 215.26,45.26 215.48,44.89 215.63,44.48 215.75,44.01 215.88,43.1 215.95,42.3 215.99,41.68 216.01,41.25 216.02,41.04" fill="none" stroke="#b86262" stroke-width="0.85"/></g>
<g opacity="1.0"><path d="M214.47,30.69L216.91,29.59 M213.46,32.4L219,29.88 M213.02,33.77L220.51,30.37 M213.16,34.82L221.41,31.07 M213.88,35.68L221.8,32.08 M215.4,36.41L221.57,33.61 M217.25,36.9L220.85,35.26 M219.26,37.31L219.89,37.03 M221.19,37.76L218.92,38.79 M222.83,38.34L218.17,40.46 M224.05,39.12L217.79,41.96 M224.76,40.12L217.89,43.24 M224.95,41.36L218.51,44.29 M224.66,42.82L219.64,45.1 M223.99,44.45L221.19,45.73 M223.1,46.18L223.02,46.22 M222.19,47.93L224.97,46.66 M221.47,49.61L226.82,47.15 M221.19,51.13L228.33,47.8 M221.56,52.36L229.26,48.72 M222.68,53.24L229.46,50 M224.55,53.77L228.89,51.68 M226.99,54.03L227.68,53.69 M229.61,54.2L226.17,55.88 M231.91,54.52L224.86,58 M233.37,55.25L224.29,59.79 M233.71,56.21L224.6,60.76 M233.33,57.52L225.63,61.37 M232.35,59.14L227.32,61.65 M230.98,60.95L229.5,61.69 M229.5,62.81L231.88,61.62 M228.26,64.56L234.15,61.61 M227.54,66.04L235.98,61.82 M227.56,67.16L237.12,62.38 M228.39,67.87L237.47,63.33 M229.96,68.21L237.04,64.67 M232.05,68.29L236,66.31 M234.37,68.25L234.63,68.12 M236.59,68.27L233.25,69.94 M238.41,68.48L232.18,71.6 M239.64,69.03L231.63,72.96 M240.15,69.9L231.76,74.01 M239.84,71.57L232.94,74.88 M238.7,73.6L235.02,75.33 M237.27,75.73L237.52,75.62 M236.08,77.72L239.91,75.98 M235.5,79.41L241.76,76.61 M235.72,80.71L242.83,77.6 M236.74,81.66L243.08,78.95 M238.39,82.35L242.62,80.59 M240.41,82.92L241.7,82.38 M242.4,83.42L240.68,84.15 M243.93,83.87L239.91,85.64 M245.23,84.43L239.36,87.11 M246.12,85.14L239.18,88.37 M246.65,86.28L239.55,89.71 M246.53,87.65L240.56,90.67 M245.98,89.19L242.03,91.27 M245.21,90.8L243.75,91.62 M244.42,92.41L245.53,91.78 M243.49,94.4L247.78,91.95 M242.96,95.86L249.42,92.17 M242.78,97.26L250.91,92.62" stroke="#cd9191" stroke-width="0.31" fill="none"/><polyline points="216.91,29.59 217.29,29.62 218.01,29.71 219,29.88 219.59,30.03 220.12,30.2 220.51,30.37 220.85,30.56 221.13,30.78 221.41,31.07 221.61,31.39 221.74,31.74 221.8,32.08 221.81,32.44 221.77,32.82 221.68,33.23 221.57,33.61 221.42,34.01 221.25,34.41 221.06,34.83 220.85,35.26 220.62,35.7 220.38,36.14 220.14,36.58 219.89,37.03 219.64,37.47 219.39,37.92 219.15,38.36 218.92,38.79 218.71,39.22 218.51,39.64 218.33,40.06 218.17,40.46 218.03,40.86 217.92,41.24 217.84,41.61 217.79,41.96 217.77,42.3 217.77,42.63 217.82,42.95 217.89,43.24 218,43.53 218.14,43.8 218.31,44.05 218.51,44.29 218.75,44.51 219.02,44.72 219.31,44.92 219.64,45.1 219.99,45.28 220.37,45.44 220.77,45.59 221.19,45.73 221.62,45.86 222.08,45.98 222.55,46.1 223.02,46.22 223.51,46.33 223.99,46.44 224.48,46.55 224.97,46.66 225.45,46.77 225.92,46.89 226.38,47.02 226.82,47.15 227.23,47.29 227.63,47.44 227.99,47.61 228.33,47.8 228.62,48 228.88,48.22 229.09,48.45 229.26,48.72 229.39,49.01 229.46,49.32 229.48,49.65 229.46,50 229.39,50.39 229.27,50.8 229.1,51.23 228.89,51.68 228.63,52.16 228.34,52.66 228.02,53.17 227.68,53.69 227.31,54.23 226.93,54.78 226.55,55.33 226.17,55.88 225.8,56.42 225.46,56.96 225.14,57.5 224.86,58 224.63,58.49 224.45,58.95 224.33,59.39 224.29,59.79 224.31,60.16 224.41,60.48 224.6,60.76 224.86,61.01 225.2,61.21 225.63,61.37 226.12,61.5 226.69,61.59 227.32,61.65 228,61.69 228.73,61.7 229.5,61.69 230.29,61.67 231.08,61.65 231.88,61.62 232.67,61.6 233.43,61.6 234.15,61.61 234.82,61.65 235.43,61.72 235.98,61.82 236.44,61.97 236.83,62.15 237.12,62.38 237.33,62.65 237.44,62.97 237.47,63.33 237.4,63.74 237.26,64.18 237.04,64.67 236.75,65.19 236.4,65.74 236,66.31 235.56,66.91 235.1,67.51 234.63,68.12 234.15,68.74 233.69,69.34 233.25,69.94 232.85,70.51 232.49,71.07 232.18,71.6 231.93,72.1 231.75,72.55 231.63,72.96 231.59,73.34 231.64,73.7 231.76,74.01 231.95,74.27 232.2,74.49 232.54,74.7 232.94,74.88 233.39,75.03 233.9,75.14 234.44,75.24 235.02,75.33 235.63,75.41 236.25,75.48 236.89,75.55 237.52,75.62 238.15,75.69 238.76,75.78 239.35,75.87 239.91,75.98 240.44,76.12 240.92,76.26 241.36,76.42 241.76,76.61 242.11,76.83 242.4,77.07 242.64,77.32 242.83,77.6 242.96,77.9 243.05,78.23 243.09,78.59 243.08,78.95 243.02,79.33 242.92,79.73 242.79,80.15 242.62,80.59 242.42,81.02 242.2,81.47 241.96,81.92 241.7,82.38 241.44,82.82 241.19,83.26 240.93,83.71 240.68,84.15 240.43,84.6 240.16,85.13 239.91,85.64 239.69,86.14 239.5,86.65 239.36,87.11 239.26,87.54 239.19,87.95 239.18,88.37 239.21,88.75 239.28,89.08 239.39,89.39 239.55,89.71 239.76,89.99 239.98,90.22 240.25,90.44 240.56,90.67 241,90.9 241.49,91.09 242.03,91.27 242.58,91.42 243.15,91.52 243.75,91.62 244.34,91.69 244.93,91.73 245.53,91.78 246.32,91.83 247.11,91.89 247.78,91.95 248.42,92.01 248.93,92.08 249.42,92.17 250.14,92.34 250.62,92.5 250.91,92.62 251.05,92.69" fill="none" stroke="#c98989" stroke-width="0.57"/><polyline points="214.47,30.69 214.27,30.99 213.9,31.58 213.46,32.4 213.24,32.92 213.09,33.4 213.02,33.77 213,34.13 213.04,34.46 213.16,34.82 213.34,35.15 213.6,35.45 213.88,35.68 214.21,35.89 214.58,36.09 215,36.26 215.4,36.41 215.84,36.54 216.29,36.67 216.77,36.79 217.25,36.9 217.75,37 218.25,37.11 218.76,37.21 219.26,37.31 219.76,37.42 220.25,37.53 220.73,37.64 221.19,37.76 221.63,37.89 222.06,38.03 222.46,38.18 222.83,38.34 223.18,38.52 223.5,38.7 223.79,38.9 224.05,39.12 224.28,39.34 224.47,39.59 224.63,39.85 224.76,40.12 224.85,40.41 224.92,40.71 224.95,41.03 224.95,41.36 224.92,41.71 224.86,42.07 224.77,42.44 224.66,42.82 224.52,43.22 224.36,43.62 224.18,44.03 223.99,44.45 223.78,44.88 223.56,45.31 223.34,45.75 223.1,46.18 222.87,46.62 222.64,47.06 222.41,47.49 222.19,47.93 221.99,48.37 221.79,48.79 221.62,49.21 221.47,49.61 221.36,50.01 221.27,50.41 221.21,50.78 221.19,51.13 221.22,51.46 221.28,51.78 221.4,52.09 221.56,52.36 221.76,52.61 222.01,52.84 222.32,53.05 222.68,53.24 223.08,53.4 223.53,53.54 224.02,53.66 224.55,53.77 225.12,53.85 225.72,53.92 226.35,53.98 226.99,54.03 227.64,54.07 228.31,54.11 228.96,54.15 229.61,54.2 230.24,54.25 230.83,54.32 231.39,54.4 231.91,54.52 232.37,54.66 232.77,54.83 233.1,55.02 233.37,55.25 233.56,55.53 233.67,55.85 233.71,56.21 233.66,56.61 233.53,57.05 233.33,57.52 233.07,58.03 232.74,58.57 232.35,59.14 231.93,59.72 231.46,60.33 230.98,60.95 230.48,61.57 229.98,62.2 229.5,62.81 229.05,63.41 228.63,64 228.26,64.56 227.95,65.09 227.7,65.59 227.54,66.04 227.46,66.46 227.46,66.83 227.56,67.16 227.75,67.44 228.02,67.68 228.39,67.87 228.84,68.02 229.36,68.13 229.96,68.21 230.61,68.26 231.31,68.28 232.05,68.29 232.81,68.28 233.59,68.27 234.37,68.25 235.14,68.24 235.88,68.25 236.59,68.27 237.25,68.31 237.86,68.38 238.41,68.48 238.89,68.62 239.3,68.81 239.64,69.03 239.89,69.29 240.06,69.57 240.15,69.9 240.18,70.28 240.13,70.69 240.01,71.12 239.84,71.57 239.61,72.05 239.34,72.56 239.04,73.08 238.7,73.6 238.35,74.13 237.99,74.67 237.63,75.2 237.27,75.73 236.93,76.25 236.62,76.76 236.33,77.25 236.08,77.72 235.86,78.17 235.69,78.6 235.57,79.02 235.5,79.41 235.47,79.76 235.5,80.09 235.58,80.41 235.72,80.71 235.91,80.98 236.14,81.22 236.42,81.44 236.74,81.66 237.11,81.86 237.51,82.04 237.94,82.2 238.39,82.35 238.88,82.5 239.38,82.64 239.89,82.78 240.41,82.92 240.91,83.04 241.42,83.16 241.91,83.29 242.4,83.42 242.87,83.54 243.41,83.69 243.93,83.87 244.41,84.05 244.85,84.24 245.23,84.43 245.58,84.65 245.88,84.9 246.12,85.14 246.31,85.38 246.47,85.67 246.59,85.98 246.65,86.28 246.67,86.58 246.66,86.93 246.62,87.29 246.53,87.65 246.39,88.13 246.21,88.65 245.98,89.19 245.75,89.7 245.49,90.25 245.21,90.8 244.95,91.33 244.69,91.87 244.42,92.41 244.08,93.12 243.75,93.81 243.49,94.4 243.26,94.96 243.1,95.42 242.96,95.86 242.82,96.52 242.78,96.98 242.78,97.26 242.8,97.4" fill="none" stroke="#b86262" stroke-width="0.88"/></g>
<g opacity="0.9"><path d="M219.68,30.87L220.44,33.56 M221.27,32.29L221.06,31.57 M222.99,33.78L221.71,29.3 M224.68,34.59L222.64,27.45 M225.06,34.37L224.52,26.95 M225.73,32.98L226.45,28.19 M227.34,30.98L227.44,30.72 M229.66,29.61L227.3,33.29 M231.96,29.24L226.94,35.4 M233.41,30.52L227.22,36.34 M233.11,33.04L229.07,36.18 M231.56,36L232.2,35.57 M229.94,38.51L235.48,35.4 M229.48,39.75L237.23,35.97 M230.12,40.45L237.84,37.19 M231.87,40.82L237.19,38.9 M234.39,41.17L235.55,40.75 M236.82,41.42L233.87,42.63 M238.98,41.79L232.64,44.96 M239.68,42.73L232.93,46.59 M239.21,44.22L234.56,47.48 M238.39,46.21L236.82,47.57 M237.73,48.9L239.57,47.06 M237.63,50.55L241.33,46.86 M238.17,51.89L242.85,47.22" stroke="#cd9191" stroke-width="0.29" fill="none"/><polyline points="220.44,33.56 220.51,33.37 220.64,33 220.82,32.4 221.06,31.57 221.35,30.51 221.53,29.89 221.71,29.3 221.95,28.66 222.2,28.11 222.41,27.74 222.64,27.45 223.18,27.14 223.81,26.96 224.52,26.95 225.22,27.18 225.88,27.58 226.45,28.19 226.92,28.92 227.24,29.8 227.44,30.72 227.49,31.72 227.45,32.67 227.3,33.29 227.26,33.93 227.1,34.42 226.92,34.89 226.94,35.4 226.84,35.69 226.81,35.94 227.02,36.23 227.22,36.34 227.51,36.37 227.99,36.42 228.49,36.32 229.07,36.18 229.8,36.07 230.54,35.88 231.35,35.72 232.2,35.57 233.06,35.45 233.91,35.39 234.71,35.34 235.48,35.4 236.18,35.55 236.74,35.67 237.23,35.97 237.58,36.35 237.76,36.69 237.84,37.19 237.76,37.76 237.52,38.27 237.19,38.9 236.73,39.55 236.16,40.15 235.55,40.75 234.97,41.36 234.4,41.98 233.87,42.63 233.44,43.24 233.06,43.81 232.79,44.41 232.64,44.96 232.55,45.4 232.59,45.89 232.74,46.31 232.93,46.59 233.25,46.93 233.65,47.19 234.05,47.31 234.56,47.48 235.11,47.58 235.63,47.58 236.22,47.6 236.82,47.57 237.38,47.48 237.96,47.4 238.78,47.22 239.57,47.06 240.22,46.95 240.84,46.88 241.33,46.86 241.78,46.88 242.42,47.01 242.85,47.22 243.11,47.42 243.26,47.59 243.32,47.68" fill="none" stroke="#c98989" stroke-width="0.53"/><polyline points="219.68,30.87 219.83,31 220.15,31.28 220.62,31.7 221.27,32.29 222.06,33.01 222.53,33.41 222.99,33.78 223.51,34.13 224,34.4 224.35,34.53 224.68,34.59 224.7,34.65 224.92,34.6 225.06,34.37 225.22,34.04 225.43,33.55 225.73,32.98 226.14,32.32 226.67,31.66 227.34,30.98 228.12,30.37 228.97,29.84 229.66,29.61 230.19,29.35 230.86,29.25 231.51,29.27 231.96,29.24 232.51,29.45 232.97,29.78 233.19,30.06 233.41,30.52 233.51,31.08 233.43,31.63 233.33,32.31 233.11,33.04 232.78,33.75 232.43,34.51 232.01,35.27 231.56,36 231.11,36.69 230.66,37.34 230.29,37.99 229.94,38.51 229.66,38.96 229.54,39.45 229.48,39.75 229.54,40.01 229.78,40.31 230.12,40.45 230.57,40.57 231.19,40.75 231.87,40.82 232.65,40.91 233.51,41.04 234.39,41.17 235.24,41.26 236.06,41.35 236.82,41.42 237.49,41.47 238.11,41.6 238.6,41.69 238.98,41.79 239.31,42.02 239.5,42.19 239.6,42.39 239.68,42.73 239.62,43.03 239.52,43.35 239.41,43.81 239.21,44.22 239.01,44.66 238.82,45.19 238.59,45.7 238.39,46.21 238.21,46.77 238.04,47.32 237.87,48.13 237.73,48.9 237.65,49.52 237.62,50.1 237.63,50.55 237.7,50.96 237.91,51.53 238.17,51.89 238.43,52.11 238.62,52.22 238.73,52.27" fill="none" stroke="#b86262" stroke-width="0.82"/></g>
<g opacity="0.8"><path d="M223.46,47.19L222.36,49.13 M223.67,49.37L224.33,48.22 M224.1,51.41L226.39,47.41 M224.95,52.38L227.77,47.44 M226.48,52.28L228.69,48.69 M228.62,51.37L228.9,50.97 M231,50.51L228.69,53.51 M232.84,50.54L228.83,55.41 M233.59,52L229.95,56.01 M233.13,54.62L232.28,55.47 M232.32,57.31L235.01,54.62 M232.14,59.04L236.91,54.28 M232.96,59.91L238.02,54.86" stroke="#cd9191" stroke-width="0.27" fill="none"/><polyline points="222.36,49.13 222.55,49.05 222.93,48.88 223.53,48.6 224.33,48.22 224.82,47.99 225.3,47.78 225.86,47.56 226.39,47.41 226.95,47.32 227.44,47.34 227.77,47.44 228.05,47.62 228.33,47.91 228.55,48.27 228.69,48.69 228.82,49.19 228.89,49.75 228.9,50.34 228.9,50.97 228.86,51.62 228.81,52.27 228.75,52.9 228.69,53.51 228.68,54.09 228.67,54.58 228.7,55.02 228.83,55.41 228.99,55.67 229.21,55.86 229.56,56 229.95,56.01 230.42,55.96 230.99,55.86 231.6,55.68 232.28,55.47 233,55.25 233.74,55.01 234.38,54.81 235.01,54.62 235.6,54.46 236.3,54.33 236.91,54.28 237.33,54.33 237.67,54.46 238.02,54.86 238.13,55.31 238.13,55.68 238.11,55.89" fill="none" stroke="#c98989" stroke-width="0.5"/><polyline points="223.46,47.19 223.49,47.4 223.53,47.83 223.59,48.49 223.67,49.37 223.73,49.89 223.81,50.39 223.93,50.93 224.1,51.41 224.34,51.87 224.66,52.21 224.95,52.38 225.28,52.47 225.62,52.46 226.01,52.39 226.48,52.28 226.96,52.09 227.48,51.87 228.04,51.63 228.62,51.37 229.22,51.12 229.82,50.87 230.42,50.66 231,50.51 231.52,50.39 232.03,50.36 232.49,50.43 232.84,50.54 233.16,50.77 233.4,51.11 233.52,51.5 233.59,52 233.58,52.59 233.48,53.21 233.33,53.89 233.13,54.62 232.9,55.35 232.67,56.08 232.48,56.71 232.32,57.31 232.2,57.86 232.12,58.51 232.14,59.04 232.25,59.4 232.45,59.67 232.96,59.91 233.49,59.94 233.91,59.9 234.14,59.86" fill="none" stroke="#b86262" stroke-width="0.77"/></g>
<g opacity="0.9"><path d="M263.57,34.86L263.85,34.95 M261.34,35.36L265.43,36.73 M259.84,36.05L266.41,38.23 M259.13,37.33L266.53,39.8 M259.7,39.03L265.33,40.91 M260.93,40.81L263.43,41.64 M262.29,42.61L261.27,42.26 M263.36,44.34L259.27,42.89 M263.8,45.86L257.78,43.7 M263.45,47.11L257.03,44.77 M262.33,48.09L257.05,46.11 M260.62,48.83L257.69,47.71 M258.61,49.44L258.72,49.48 M256.62,50.03L259.81,51.31 M254.97,50.74L260.63,53.05 M253.93,51.69L260.89,54.59 M253.62,53L260.45,55.77 M254.06,54.6L259.25,56.65 M255.1,56.4L257.4,57.3 M256.44,58.3L255.17,57.81 M257.71,60.14L252.91,58.34 M258.54,61.78L251,59.03 M258.63,63.12L249.78,59.99 M257.81,64.16L249.47,61.25 M256.12,64.9L250.09,62.83 M253.81,65.44L251.45,64.65 M251.28,65.96L253.2,66.54 M249,66.68L254.9,68.28 M247.43,67.61L256.06,69.81 M246.87,68.82L256.35,71.09 M247.37,70.32L255.64,72.04 M248.78,71.94L253.99,72.86 M250.71,73.52L251.75,73.67 M252.65,75L249.41,74.58 M254.11,76.35L247.49,75.59 M254.7,77.5L246.4,76.81 M254.2,78.61L246.43,78.37 M252.97,79.55L247.42,79.66 M251.31,80.66L249.01,80.77 M249.11,82.3L251.45,82.06 M247.67,84.08L253.47,83.16 M247.52,85.76L254.45,84.27 M248.73,87.13L254.2,85.64 M250.92,88.09L253.02,87.39 M253.43,88.76L251.51,89.46 M255.29,89.45L250.39,91.23 M256.47,90.51L249.92,92.89 M256.57,91.9L250.47,94.11" stroke="#d5a4a4" stroke-width="0.29" fill="none"/><polyline points="263.85,34.95 264.13,35.25 264.68,35.85 265.43,36.73 265.85,37.28 266.19,37.81 266.41,38.23 266.56,38.63 266.64,39.01 266.64,39.42 266.53,39.8 266.32,40.15 266.06,40.43 265.73,40.68 265.33,40.91 264.88,41.13 264.43,41.31 263.94,41.48 263.43,41.64 262.9,41.8 262.36,41.96 261.81,42.11 261.27,42.26 260.74,42.41 260.22,42.57 259.73,42.73 259.27,42.89 258.83,43.08 258.44,43.27 258.09,43.49 257.78,43.7 257.53,43.93 257.31,44.19 257.15,44.47 257.03,44.77 256.97,45.07 256.95,45.39 256.98,45.74 257.05,46.11 257.16,46.49 257.31,46.88 257.49,47.28 257.69,47.71 257.93,48.14 258.18,48.58 258.45,49.03 258.72,49.48 259,49.94 259.28,50.4 259.55,50.85 259.81,51.31 260.05,51.76 260.27,52.2 260.47,52.63 260.63,53.05 260.76,53.46 260.84,53.86 260.89,54.24 260.89,54.59 260.85,54.92 260.76,55.22 260.63,55.5 260.45,55.77 260.22,56.03 259.93,56.26 259.61,56.47 259.25,56.65 258.84,56.84 258.39,57.01 257.91,57.16 257.4,57.3 256.87,57.44 256.31,57.57 255.75,57.69 255.17,57.81 254.59,57.94 254.02,58.07 253.46,58.2 252.91,58.34 252.39,58.49 251.89,58.66 251.42,58.84 251,59.03 250.63,59.23 250.3,59.45 250.01,59.71 249.78,59.99 249.62,60.27 249.51,60.57 249.47,60.89 249.47,61.25 249.54,61.63 249.67,62.01 249.86,62.41 250.09,62.83 250.37,63.27 250.69,63.73 251.05,64.18 251.45,64.65 251.86,65.12 252.29,65.61 252.74,66.08 253.2,66.54 253.64,67 254.08,67.46 254.5,67.88 254.9,68.28 255.25,68.69 255.57,69.1 255.83,69.5 256.06,69.81 256.24,70.11 256.34,70.45 256.38,70.78 256.35,71.09 256.27,71.31 256.14,71.52 255.92,71.79 255.64,72.04 255.29,72.29 254.91,72.46 254.48,72.64 253.99,72.86 253.47,73.08 252.91,73.29 252.34,73.47 251.75,73.67 251.16,73.89 250.56,74.11 249.98,74.33 249.41,74.58 248.87,74.84 248.37,75.09 247.91,75.34 247.49,75.59 247.12,75.91 246.82,76.24 246.58,76.52 246.4,76.81 246.29,77.1 246.24,77.52 246.28,77.99 246.43,78.37 246.68,78.75 247,79.22 247.42,79.66 247.9,80.02 248.44,80.38 249.01,80.77 249.62,81.13 250.24,81.45 250.86,81.77 251.45,82.06 252.03,82.33 252.57,82.62 253.06,82.92 253.47,83.16 253.83,83.38 254.12,83.69 254.33,84.02 254.45,84.27 254.49,84.53 254.48,84.91 254.39,85.3 254.2,85.64 253.97,86 253.7,86.46 253.39,86.94 253.02,87.39 252.65,87.88 252.27,88.4 251.88,88.93 251.51,89.46 251.19,89.91 250.89,90.36 250.62,90.8 250.39,91.23 250.18,91.69 250.02,92.14 249.93,92.56 249.92,92.89 249.95,93.2 250.04,93.49 250.22,93.82 250.47,94.11 251,94.51 251.43,94.74 251.68,94.84" fill="none" stroke="#d29e9e" stroke-width="0.53"/><polyline points="263.57,34.86 263.17,34.93 262.39,35.09 261.34,35.36 260.73,35.58 260.2,35.82 259.84,36.05 259.56,36.3 259.34,36.57 259.18,36.94 259.13,37.33 259.17,37.76 259.28,38.17 259.46,38.59 259.7,39.03 259.98,39.49 260.27,39.92 260.59,40.36 260.93,40.81 261.27,41.26 261.62,41.71 261.96,42.16 262.29,42.61 262.6,43.05 262.89,43.48 263.14,43.92 263.36,44.34 263.54,44.74 263.67,45.13 263.76,45.5 263.8,45.86 263.78,46.21 263.72,46.53 263.61,46.83 263.45,47.11 263.24,47.39 262.97,47.65 262.67,47.88 262.33,48.09 261.95,48.29 261.54,48.49 261.09,48.67 260.62,48.83 260.13,48.99 259.63,49.14 259.12,49.29 258.61,49.44 258.09,49.58 257.58,49.72 257.09,49.88 256.62,50.03 256.16,50.18 255.73,50.36 255.33,50.54 254.97,50.74 254.65,50.95 254.37,51.17 254.12,51.42 253.93,51.69 253.78,51.98 253.67,52.3 253.62,52.65 253.62,53 253.66,53.37 253.75,53.75 253.88,54.17 254.06,54.6 254.27,55.03 254.52,55.48 254.8,55.93 255.1,56.4 255.42,56.88 255.75,57.35 256.1,57.83 256.44,58.3 256.78,58.77 257.11,59.23 257.42,59.69 257.71,60.14 257.97,60.58 258.2,60.99 258.4,61.39 258.54,61.78 258.64,62.15 258.69,62.51 258.69,62.83 258.63,63.12 258.51,63.42 258.33,63.69 258.09,63.95 257.81,64.16 257.47,64.36 257.07,64.56 256.62,64.74 256.12,64.9 255.59,65.04 255.03,65.18 254.43,65.31 253.81,65.44 253.18,65.56 252.54,65.68 251.91,65.82 251.28,65.96 250.68,66.11 250.09,66.26 249.52,66.46 249,66.68 248.54,66.88 248.12,67.08 247.75,67.31 247.43,67.61 247.18,67.94 247.01,68.22 246.91,68.51 246.87,68.82 246.89,69.21 246.98,69.61 247.15,69.96 247.37,70.32 247.65,70.69 247.98,71.13 248.36,71.55 248.78,71.94 249.24,72.33 249.71,72.72 250.2,73.13 250.71,73.52 251.22,73.9 251.72,74.28 252.2,74.66 252.65,75 253.09,75.32 253.48,75.67 253.82,76.02 254.11,76.35 254.35,76.62 254.53,76.88 254.65,77.19 254.7,77.5 254.69,77.8 254.62,77.98 254.46,78.25 254.2,78.61 253.85,78.97 253.43,79.25 252.97,79.55 252.45,79.93 251.89,80.3 251.31,80.66 250.74,81.04 250.17,81.45 249.62,81.86 249.11,82.3 248.66,82.77 248.26,83.18 247.92,83.59 247.67,84.08 247.51,84.56 247.43,84.94 247.42,85.31 247.52,85.76 247.72,86.19 247.98,86.5 248.31,86.79 248.73,87.13 249.23,87.44 249.75,87.66 250.32,87.87 250.92,88.09 251.56,88.27 252.19,88.43 252.82,88.59 253.43,88.76 253.95,88.91 254.43,89.08 254.88,89.25 255.29,89.45 255.7,89.69 256.04,89.95 256.31,90.24 256.47,90.51 256.59,90.79 256.65,91.09 256.64,91.48 256.57,91.9 256.32,92.57 256.08,93.05 255.94,93.3" fill="none" stroke="#c47e7e" stroke-width="0.82"/></g>
<g opacity="0.85"><path d="M242.66,86.52L243.11,85.84 M242.75,88.4L244.94,85.13 M243.23,89.92L246.64,84.81 M244.48,90.55L247.87,85.47 M246.27,90.16L248.25,87 M248.46,89.06L248.3,89.34 M250.64,87.9L248.35,91.92 M252.36,87.48L248.88,93.92 M253.36,88.5L250.24,94.55 M253.68,91.06L252.42,93.57 M253.73,93.99L254.78,91.87 M253.96,96.17L256.75,90.59 M254.83,97.39L258.41,90.23" stroke="#cd9191" stroke-width="0.27" fill="none"/><polyline points="243.11,85.84 243.3,85.76 243.67,85.61 244.22,85.39 244.94,85.13 245.77,84.9 246.22,84.82 246.64,84.81 247.07,84.87 247.44,85.03 247.67,85.22 247.87,85.47 248,85.76 248.11,86.11 248.21,86.53 248.25,87 248.28,87.52 248.3,88.1 248.3,88.7 248.3,89.34 248.29,89.99 248.29,90.64 248.32,91.3 248.35,91.92 248.42,92.51 248.54,93.05 248.67,93.52 248.88,93.92 249.14,94.23 249.43,94.43 249.8,94.55 250.24,94.55 250.7,94.44 251.23,94.25 251.82,93.95 252.42,93.57 253.06,93.13 253.63,92.72 254.21,92.29 254.78,91.87 255.51,91.35 256.21,90.9 256.75,90.59 257.26,90.36 257.97,90.18 258.41,90.23 258.66,90.36 258.78,90.45" fill="none" stroke="#c98989" stroke-width="0.5"/><polyline points="242.66,86.52 242.66,86.72 242.67,87.11 242.69,87.69 242.75,88.4 242.9,89.19 243.05,89.59 243.23,89.92 243.5,90.22 243.84,90.43 244.14,90.52 244.48,90.55 244.88,90.54 245.32,90.47 245.78,90.33 246.27,90.16 246.8,89.93 247.34,89.66 247.89,89.38 248.46,89.06 249.02,88.75 249.57,88.45 250.11,88.15 250.64,87.9 251.12,87.69 251.58,87.54 252.01,87.48 252.36,87.48 252.68,87.58 252.97,87.8 253.19,88.1 253.36,88.5 253.5,89.02 253.58,89.62 253.64,90.31 253.68,91.06 253.7,91.86 253.7,92.57 253.71,93.29 253.73,93.99 253.77,94.84 253.85,95.61 253.96,96.17 254.12,96.64 254.48,97.17 254.83,97.39 255.12,97.45 255.28,97.45" fill="none" stroke="#b86262" stroke-width="0.77"/></g>
</svg>
</body></html>
